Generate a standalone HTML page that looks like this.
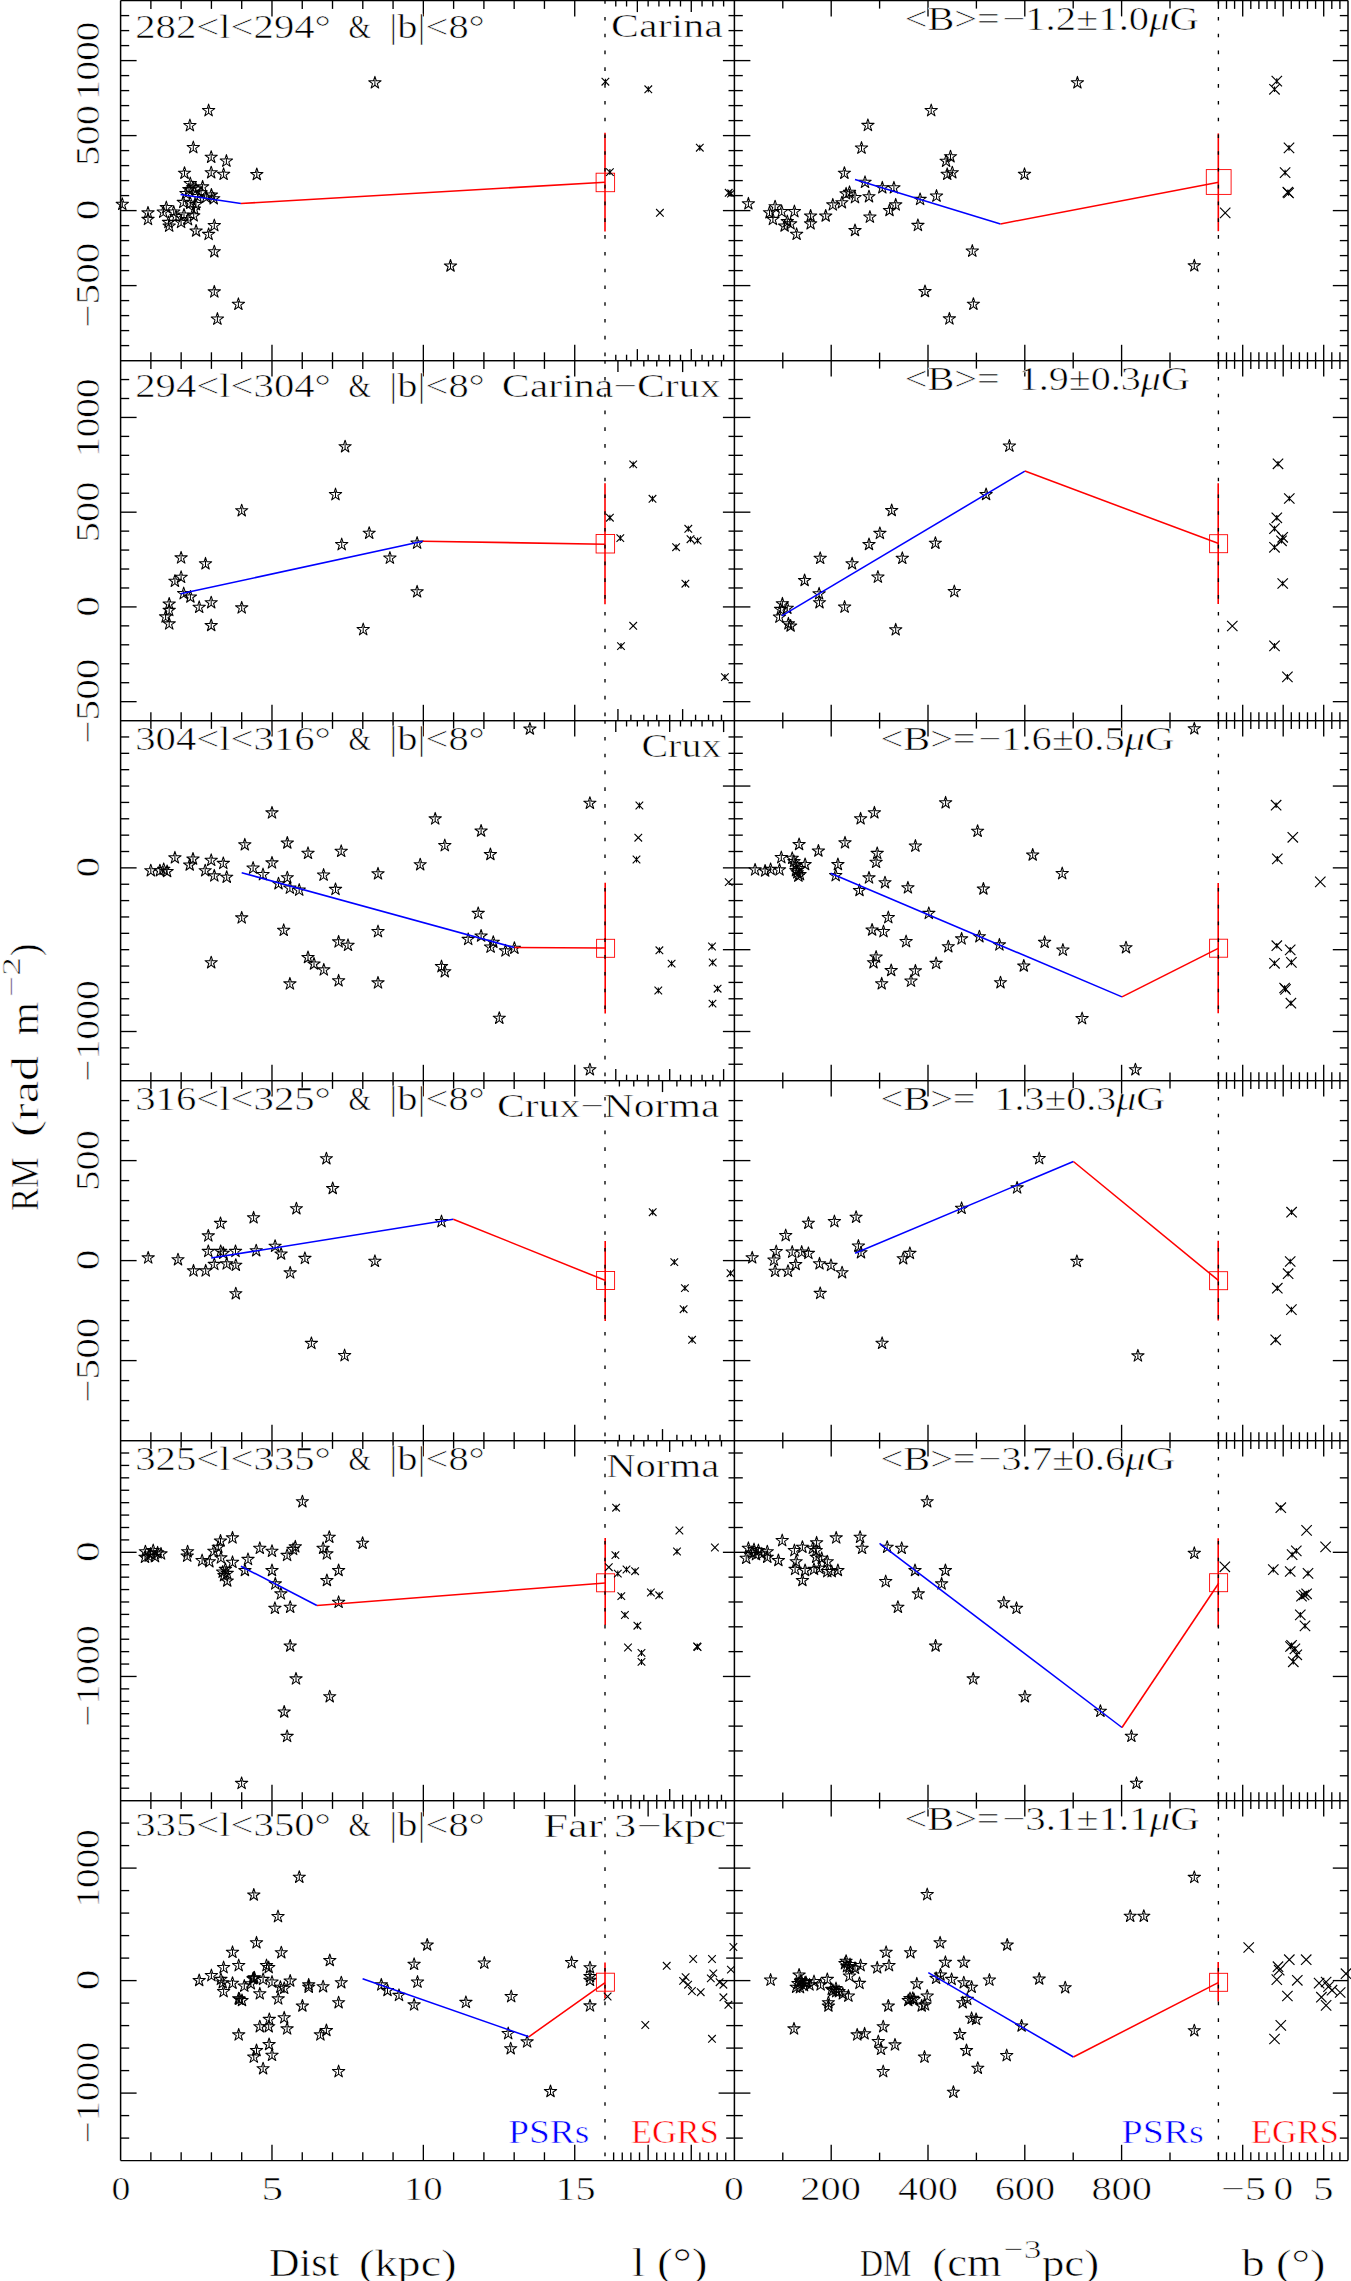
<!DOCTYPE html>
<html><head><meta charset="utf-8"><title>RM plot</title>
<style>html,body{margin:0;padding:0;background:#fff;} svg{display:block;}</style>
</head><body>
<svg width="1351" height="2281" viewBox="0 0 1351 2281" font-family="'Liberation Serif', 'DejaVu Serif', serif">
<rect width="1351" height="2281" fill="#fff"/>
<line x1="120.60" y1="0.60" x2="1348.00" y2="0.60" stroke="#000" stroke-width="1.35" />
<line x1="120.60" y1="360.60" x2="1348.00" y2="360.60" stroke="#000" stroke-width="1.35" />
<line x1="120.60" y1="345.60" x2="129.20" y2="345.60" stroke="#000" stroke-width="1.35" />
<line x1="120.60" y1="330.60" x2="129.20" y2="330.60" stroke="#000" stroke-width="1.35" />
<line x1="120.60" y1="315.60" x2="129.20" y2="315.60" stroke="#000" stroke-width="1.35" />
<line x1="120.60" y1="300.60" x2="129.20" y2="300.60" stroke="#000" stroke-width="1.35" />
<line x1="120.60" y1="285.60" x2="136.60" y2="285.60" stroke="#000" stroke-width="1.35" />
<line x1="120.60" y1="270.60" x2="129.20" y2="270.60" stroke="#000" stroke-width="1.35" />
<line x1="120.60" y1="255.60" x2="129.20" y2="255.60" stroke="#000" stroke-width="1.35" />
<line x1="120.60" y1="240.60" x2="129.20" y2="240.60" stroke="#000" stroke-width="1.35" />
<line x1="120.60" y1="225.60" x2="129.20" y2="225.60" stroke="#000" stroke-width="1.35" />
<line x1="120.60" y1="210.60" x2="136.60" y2="210.60" stroke="#000" stroke-width="1.35" />
<line x1="120.60" y1="195.60" x2="129.20" y2="195.60" stroke="#000" stroke-width="1.35" />
<line x1="120.60" y1="180.60" x2="129.20" y2="180.60" stroke="#000" stroke-width="1.35" />
<line x1="120.60" y1="165.60" x2="129.20" y2="165.60" stroke="#000" stroke-width="1.35" />
<line x1="120.60" y1="150.60" x2="129.20" y2="150.60" stroke="#000" stroke-width="1.35" />
<line x1="120.60" y1="135.60" x2="136.60" y2="135.60" stroke="#000" stroke-width="1.35" />
<line x1="120.60" y1="120.60" x2="129.20" y2="120.60" stroke="#000" stroke-width="1.35" />
<line x1="120.60" y1="105.60" x2="129.20" y2="105.60" stroke="#000" stroke-width="1.35" />
<line x1="120.60" y1="90.60" x2="129.20" y2="90.60" stroke="#000" stroke-width="1.35" />
<line x1="120.60" y1="75.60" x2="129.20" y2="75.60" stroke="#000" stroke-width="1.35" />
<line x1="120.60" y1="60.60" x2="136.60" y2="60.60" stroke="#000" stroke-width="1.35" />
<line x1="120.60" y1="45.60" x2="129.20" y2="45.60" stroke="#000" stroke-width="1.35" />
<line x1="120.60" y1="30.60" x2="129.20" y2="30.60" stroke="#000" stroke-width="1.35" />
<line x1="120.60" y1="15.60" x2="129.20" y2="15.60" stroke="#000" stroke-width="1.35" />
<line x1="734.40" y1="345.60" x2="728.50" y2="345.60" stroke="#000" stroke-width="1.35" />
<line x1="734.40" y1="345.60" x2="742.80" y2="345.60" stroke="#000" stroke-width="1.35" />
<line x1="1348.00" y1="345.60" x2="1339.80" y2="345.60" stroke="#000" stroke-width="1.35" />
<line x1="734.40" y1="330.60" x2="728.50" y2="330.60" stroke="#000" stroke-width="1.35" />
<line x1="734.40" y1="330.60" x2="742.80" y2="330.60" stroke="#000" stroke-width="1.35" />
<line x1="1348.00" y1="330.60" x2="1339.80" y2="330.60" stroke="#000" stroke-width="1.35" />
<line x1="734.40" y1="315.60" x2="728.50" y2="315.60" stroke="#000" stroke-width="1.35" />
<line x1="734.40" y1="315.60" x2="742.80" y2="315.60" stroke="#000" stroke-width="1.35" />
<line x1="1348.00" y1="315.60" x2="1339.80" y2="315.60" stroke="#000" stroke-width="1.35" />
<line x1="734.40" y1="300.60" x2="728.50" y2="300.60" stroke="#000" stroke-width="1.35" />
<line x1="734.40" y1="300.60" x2="742.80" y2="300.60" stroke="#000" stroke-width="1.35" />
<line x1="1348.00" y1="300.60" x2="1339.80" y2="300.60" stroke="#000" stroke-width="1.35" />
<line x1="734.40" y1="285.60" x2="722.90" y2="285.60" stroke="#000" stroke-width="1.35" />
<line x1="734.40" y1="285.60" x2="750.40" y2="285.60" stroke="#000" stroke-width="1.35" />
<line x1="1348.00" y1="285.60" x2="1332.80" y2="285.60" stroke="#000" stroke-width="1.35" />
<line x1="734.40" y1="270.60" x2="728.50" y2="270.60" stroke="#000" stroke-width="1.35" />
<line x1="734.40" y1="270.60" x2="742.80" y2="270.60" stroke="#000" stroke-width="1.35" />
<line x1="1348.00" y1="270.60" x2="1339.80" y2="270.60" stroke="#000" stroke-width="1.35" />
<line x1="734.40" y1="255.60" x2="728.50" y2="255.60" stroke="#000" stroke-width="1.35" />
<line x1="734.40" y1="255.60" x2="742.80" y2="255.60" stroke="#000" stroke-width="1.35" />
<line x1="1348.00" y1="255.60" x2="1339.80" y2="255.60" stroke="#000" stroke-width="1.35" />
<line x1="734.40" y1="240.60" x2="728.50" y2="240.60" stroke="#000" stroke-width="1.35" />
<line x1="734.40" y1="240.60" x2="742.80" y2="240.60" stroke="#000" stroke-width="1.35" />
<line x1="1348.00" y1="240.60" x2="1339.80" y2="240.60" stroke="#000" stroke-width="1.35" />
<line x1="734.40" y1="225.60" x2="728.50" y2="225.60" stroke="#000" stroke-width="1.35" />
<line x1="734.40" y1="225.60" x2="742.80" y2="225.60" stroke="#000" stroke-width="1.35" />
<line x1="1348.00" y1="225.60" x2="1339.80" y2="225.60" stroke="#000" stroke-width="1.35" />
<line x1="734.40" y1="210.60" x2="722.90" y2="210.60" stroke="#000" stroke-width="1.35" />
<line x1="734.40" y1="210.60" x2="750.40" y2="210.60" stroke="#000" stroke-width="1.35" />
<line x1="1348.00" y1="210.60" x2="1332.80" y2="210.60" stroke="#000" stroke-width="1.35" />
<line x1="734.40" y1="195.60" x2="728.50" y2="195.60" stroke="#000" stroke-width="1.35" />
<line x1="734.40" y1="195.60" x2="742.80" y2="195.60" stroke="#000" stroke-width="1.35" />
<line x1="1348.00" y1="195.60" x2="1339.80" y2="195.60" stroke="#000" stroke-width="1.35" />
<line x1="734.40" y1="180.60" x2="728.50" y2="180.60" stroke="#000" stroke-width="1.35" />
<line x1="734.40" y1="180.60" x2="742.80" y2="180.60" stroke="#000" stroke-width="1.35" />
<line x1="1348.00" y1="180.60" x2="1339.80" y2="180.60" stroke="#000" stroke-width="1.35" />
<line x1="734.40" y1="165.60" x2="728.50" y2="165.60" stroke="#000" stroke-width="1.35" />
<line x1="734.40" y1="165.60" x2="742.80" y2="165.60" stroke="#000" stroke-width="1.35" />
<line x1="1348.00" y1="165.60" x2="1339.80" y2="165.60" stroke="#000" stroke-width="1.35" />
<line x1="734.40" y1="150.60" x2="728.50" y2="150.60" stroke="#000" stroke-width="1.35" />
<line x1="734.40" y1="150.60" x2="742.80" y2="150.60" stroke="#000" stroke-width="1.35" />
<line x1="1348.00" y1="150.60" x2="1339.80" y2="150.60" stroke="#000" stroke-width="1.35" />
<line x1="734.40" y1="135.60" x2="722.90" y2="135.60" stroke="#000" stroke-width="1.35" />
<line x1="734.40" y1="135.60" x2="750.40" y2="135.60" stroke="#000" stroke-width="1.35" />
<line x1="1348.00" y1="135.60" x2="1332.80" y2="135.60" stroke="#000" stroke-width="1.35" />
<line x1="734.40" y1="120.60" x2="728.50" y2="120.60" stroke="#000" stroke-width="1.35" />
<line x1="734.40" y1="120.60" x2="742.80" y2="120.60" stroke="#000" stroke-width="1.35" />
<line x1="1348.00" y1="120.60" x2="1339.80" y2="120.60" stroke="#000" stroke-width="1.35" />
<line x1="734.40" y1="105.60" x2="728.50" y2="105.60" stroke="#000" stroke-width="1.35" />
<line x1="734.40" y1="105.60" x2="742.80" y2="105.60" stroke="#000" stroke-width="1.35" />
<line x1="1348.00" y1="105.60" x2="1339.80" y2="105.60" stroke="#000" stroke-width="1.35" />
<line x1="734.40" y1="90.60" x2="728.50" y2="90.60" stroke="#000" stroke-width="1.35" />
<line x1="734.40" y1="90.60" x2="742.80" y2="90.60" stroke="#000" stroke-width="1.35" />
<line x1="1348.00" y1="90.60" x2="1339.80" y2="90.60" stroke="#000" stroke-width="1.35" />
<line x1="734.40" y1="75.60" x2="728.50" y2="75.60" stroke="#000" stroke-width="1.35" />
<line x1="734.40" y1="75.60" x2="742.80" y2="75.60" stroke="#000" stroke-width="1.35" />
<line x1="1348.00" y1="75.60" x2="1339.80" y2="75.60" stroke="#000" stroke-width="1.35" />
<line x1="734.40" y1="60.60" x2="722.90" y2="60.60" stroke="#000" stroke-width="1.35" />
<line x1="734.40" y1="60.60" x2="750.40" y2="60.60" stroke="#000" stroke-width="1.35" />
<line x1="1348.00" y1="60.60" x2="1332.80" y2="60.60" stroke="#000" stroke-width="1.35" />
<line x1="734.40" y1="45.60" x2="728.50" y2="45.60" stroke="#000" stroke-width="1.35" />
<line x1="734.40" y1="45.60" x2="742.80" y2="45.60" stroke="#000" stroke-width="1.35" />
<line x1="1348.00" y1="45.60" x2="1339.80" y2="45.60" stroke="#000" stroke-width="1.35" />
<line x1="734.40" y1="30.60" x2="728.50" y2="30.60" stroke="#000" stroke-width="1.35" />
<line x1="734.40" y1="30.60" x2="742.80" y2="30.60" stroke="#000" stroke-width="1.35" />
<line x1="1348.00" y1="30.60" x2="1339.80" y2="30.60" stroke="#000" stroke-width="1.35" />
<line x1="734.40" y1="15.60" x2="728.50" y2="15.60" stroke="#000" stroke-width="1.35" />
<line x1="734.40" y1="15.60" x2="742.80" y2="15.60" stroke="#000" stroke-width="1.35" />
<line x1="1348.00" y1="15.60" x2="1339.80" y2="15.60" stroke="#000" stroke-width="1.35" />
<line x1="150.88" y1="0.60" x2="150.88" y2="8.90" stroke="#000" stroke-width="1.35" />
<line x1="150.88" y1="360.60" x2="150.88" y2="352.30" stroke="#000" stroke-width="1.35" />
<line x1="181.15" y1="0.60" x2="181.15" y2="8.90" stroke="#000" stroke-width="1.35" />
<line x1="181.15" y1="360.60" x2="181.15" y2="352.30" stroke="#000" stroke-width="1.35" />
<line x1="211.42" y1="0.60" x2="211.42" y2="8.90" stroke="#000" stroke-width="1.35" />
<line x1="211.42" y1="360.60" x2="211.42" y2="352.30" stroke="#000" stroke-width="1.35" />
<line x1="241.70" y1="0.60" x2="241.70" y2="8.90" stroke="#000" stroke-width="1.35" />
<line x1="241.70" y1="360.60" x2="241.70" y2="352.30" stroke="#000" stroke-width="1.35" />
<line x1="271.98" y1="0.60" x2="271.98" y2="16.40" stroke="#000" stroke-width="1.35" />
<line x1="271.98" y1="360.60" x2="271.98" y2="344.80" stroke="#000" stroke-width="1.35" />
<line x1="302.25" y1="0.60" x2="302.25" y2="8.90" stroke="#000" stroke-width="1.35" />
<line x1="302.25" y1="360.60" x2="302.25" y2="352.30" stroke="#000" stroke-width="1.35" />
<line x1="332.52" y1="0.60" x2="332.52" y2="8.90" stroke="#000" stroke-width="1.35" />
<line x1="332.52" y1="360.60" x2="332.52" y2="352.30" stroke="#000" stroke-width="1.35" />
<line x1="362.80" y1="0.60" x2="362.80" y2="8.90" stroke="#000" stroke-width="1.35" />
<line x1="362.80" y1="360.60" x2="362.80" y2="352.30" stroke="#000" stroke-width="1.35" />
<line x1="393.07" y1="0.60" x2="393.07" y2="8.90" stroke="#000" stroke-width="1.35" />
<line x1="393.07" y1="360.60" x2="393.07" y2="352.30" stroke="#000" stroke-width="1.35" />
<line x1="423.35" y1="0.60" x2="423.35" y2="16.40" stroke="#000" stroke-width="1.35" />
<line x1="423.35" y1="360.60" x2="423.35" y2="344.80" stroke="#000" stroke-width="1.35" />
<line x1="453.62" y1="0.60" x2="453.62" y2="8.90" stroke="#000" stroke-width="1.35" />
<line x1="453.62" y1="360.60" x2="453.62" y2="352.30" stroke="#000" stroke-width="1.35" />
<line x1="483.90" y1="0.60" x2="483.90" y2="8.90" stroke="#000" stroke-width="1.35" />
<line x1="483.90" y1="360.60" x2="483.90" y2="352.30" stroke="#000" stroke-width="1.35" />
<line x1="514.17" y1="0.60" x2="514.17" y2="8.90" stroke="#000" stroke-width="1.35" />
<line x1="514.17" y1="360.60" x2="514.17" y2="352.30" stroke="#000" stroke-width="1.35" />
<line x1="544.45" y1="0.60" x2="544.45" y2="8.90" stroke="#000" stroke-width="1.35" />
<line x1="544.45" y1="360.60" x2="544.45" y2="352.30" stroke="#000" stroke-width="1.35" />
<line x1="574.73" y1="0.60" x2="574.73" y2="16.40" stroke="#000" stroke-width="1.35" />
<line x1="574.73" y1="360.60" x2="574.73" y2="344.80" stroke="#000" stroke-width="1.35" />
<line x1="615.78" y1="0.60" x2="615.78" y2="6.50" stroke="#000" stroke-width="1.35" />
<line x1="615.78" y1="360.60" x2="615.78" y2="354.70" stroke="#000" stroke-width="1.35" />
<line x1="626.57" y1="0.60" x2="626.57" y2="6.50" stroke="#000" stroke-width="1.35" />
<line x1="626.57" y1="360.60" x2="626.57" y2="354.70" stroke="#000" stroke-width="1.35" />
<line x1="637.35" y1="0.60" x2="637.35" y2="12.10" stroke="#000" stroke-width="1.35" />
<line x1="637.35" y1="360.60" x2="637.35" y2="349.10" stroke="#000" stroke-width="1.35" />
<line x1="648.13" y1="0.60" x2="648.13" y2="6.50" stroke="#000" stroke-width="1.35" />
<line x1="648.13" y1="360.60" x2="648.13" y2="354.70" stroke="#000" stroke-width="1.35" />
<line x1="658.92" y1="0.60" x2="658.92" y2="6.50" stroke="#000" stroke-width="1.35" />
<line x1="658.92" y1="360.60" x2="658.92" y2="354.70" stroke="#000" stroke-width="1.35" />
<line x1="669.70" y1="0.60" x2="669.70" y2="6.50" stroke="#000" stroke-width="1.35" />
<line x1="669.70" y1="360.60" x2="669.70" y2="354.70" stroke="#000" stroke-width="1.35" />
<line x1="680.48" y1="0.60" x2="680.48" y2="6.50" stroke="#000" stroke-width="1.35" />
<line x1="680.48" y1="360.60" x2="680.48" y2="354.70" stroke="#000" stroke-width="1.35" />
<line x1="691.27" y1="0.60" x2="691.27" y2="12.10" stroke="#000" stroke-width="1.35" />
<line x1="691.27" y1="360.60" x2="691.27" y2="349.10" stroke="#000" stroke-width="1.35" />
<line x1="702.05" y1="0.60" x2="702.05" y2="6.50" stroke="#000" stroke-width="1.35" />
<line x1="702.05" y1="360.60" x2="702.05" y2="354.70" stroke="#000" stroke-width="1.35" />
<line x1="712.83" y1="0.60" x2="712.83" y2="6.50" stroke="#000" stroke-width="1.35" />
<line x1="712.83" y1="360.60" x2="712.83" y2="354.70" stroke="#000" stroke-width="1.35" />
<line x1="723.62" y1="0.60" x2="723.62" y2="6.50" stroke="#000" stroke-width="1.35" />
<line x1="723.62" y1="360.60" x2="723.62" y2="354.70" stroke="#000" stroke-width="1.35" />
<line x1="782.80" y1="0.60" x2="782.80" y2="8.60" stroke="#000" stroke-width="1.35" />
<line x1="782.80" y1="360.60" x2="782.80" y2="352.60" stroke="#000" stroke-width="1.35" />
<line x1="831.20" y1="0.60" x2="831.20" y2="16.40" stroke="#000" stroke-width="1.35" />
<line x1="831.20" y1="360.60" x2="831.20" y2="344.80" stroke="#000" stroke-width="1.35" />
<line x1="879.60" y1="0.60" x2="879.60" y2="8.60" stroke="#000" stroke-width="1.35" />
<line x1="879.60" y1="360.60" x2="879.60" y2="352.60" stroke="#000" stroke-width="1.35" />
<line x1="928.00" y1="0.60" x2="928.00" y2="16.40" stroke="#000" stroke-width="1.35" />
<line x1="928.00" y1="360.60" x2="928.00" y2="344.80" stroke="#000" stroke-width="1.35" />
<line x1="976.40" y1="0.60" x2="976.40" y2="8.60" stroke="#000" stroke-width="1.35" />
<line x1="976.40" y1="360.60" x2="976.40" y2="352.60" stroke="#000" stroke-width="1.35" />
<line x1="1024.80" y1="0.60" x2="1024.80" y2="16.40" stroke="#000" stroke-width="1.35" />
<line x1="1024.80" y1="360.60" x2="1024.80" y2="344.80" stroke="#000" stroke-width="1.35" />
<line x1="1073.20" y1="0.60" x2="1073.20" y2="8.60" stroke="#000" stroke-width="1.35" />
<line x1="1073.20" y1="360.60" x2="1073.20" y2="352.60" stroke="#000" stroke-width="1.35" />
<line x1="1121.60" y1="0.60" x2="1121.60" y2="16.40" stroke="#000" stroke-width="1.35" />
<line x1="1121.60" y1="360.60" x2="1121.60" y2="344.80" stroke="#000" stroke-width="1.35" />
<line x1="1170.00" y1="0.60" x2="1170.00" y2="8.60" stroke="#000" stroke-width="1.35" />
<line x1="1170.00" y1="360.60" x2="1170.00" y2="352.60" stroke="#000" stroke-width="1.35" />
<line x1="1218.40" y1="0.60" x2="1218.40" y2="8.90" stroke="#000" stroke-width="1.35" />
<line x1="1218.40" y1="360.60" x2="1218.40" y2="352.30" stroke="#000" stroke-width="1.35" />
<line x1="1226.50" y1="0.60" x2="1226.50" y2="8.90" stroke="#000" stroke-width="1.35" />
<line x1="1226.50" y1="360.60" x2="1226.50" y2="352.30" stroke="#000" stroke-width="1.35" />
<line x1="1234.60" y1="0.60" x2="1234.60" y2="8.90" stroke="#000" stroke-width="1.35" />
<line x1="1234.60" y1="360.60" x2="1234.60" y2="352.30" stroke="#000" stroke-width="1.35" />
<line x1="1242.70" y1="0.60" x2="1242.70" y2="16.40" stroke="#000" stroke-width="1.35" />
<line x1="1242.70" y1="360.60" x2="1242.70" y2="344.80" stroke="#000" stroke-width="1.35" />
<line x1="1250.80" y1="0.60" x2="1250.80" y2="8.90" stroke="#000" stroke-width="1.35" />
<line x1="1250.80" y1="360.60" x2="1250.80" y2="352.30" stroke="#000" stroke-width="1.35" />
<line x1="1258.90" y1="0.60" x2="1258.90" y2="8.90" stroke="#000" stroke-width="1.35" />
<line x1="1258.90" y1="360.60" x2="1258.90" y2="352.30" stroke="#000" stroke-width="1.35" />
<line x1="1267.00" y1="0.60" x2="1267.00" y2="8.90" stroke="#000" stroke-width="1.35" />
<line x1="1267.00" y1="360.60" x2="1267.00" y2="352.30" stroke="#000" stroke-width="1.35" />
<line x1="1275.10" y1="0.60" x2="1275.10" y2="8.90" stroke="#000" stroke-width="1.35" />
<line x1="1275.10" y1="360.60" x2="1275.10" y2="352.30" stroke="#000" stroke-width="1.35" />
<line x1="1283.20" y1="0.60" x2="1283.20" y2="16.40" stroke="#000" stroke-width="1.35" />
<line x1="1283.20" y1="360.60" x2="1283.20" y2="344.80" stroke="#000" stroke-width="1.35" />
<line x1="1291.30" y1="0.60" x2="1291.30" y2="8.90" stroke="#000" stroke-width="1.35" />
<line x1="1291.30" y1="360.60" x2="1291.30" y2="352.30" stroke="#000" stroke-width="1.35" />
<line x1="1299.40" y1="0.60" x2="1299.40" y2="8.90" stroke="#000" stroke-width="1.35" />
<line x1="1299.40" y1="360.60" x2="1299.40" y2="352.30" stroke="#000" stroke-width="1.35" />
<line x1="1307.50" y1="0.60" x2="1307.50" y2="8.90" stroke="#000" stroke-width="1.35" />
<line x1="1307.50" y1="360.60" x2="1307.50" y2="352.30" stroke="#000" stroke-width="1.35" />
<line x1="1315.60" y1="0.60" x2="1315.60" y2="8.90" stroke="#000" stroke-width="1.35" />
<line x1="1315.60" y1="360.60" x2="1315.60" y2="352.30" stroke="#000" stroke-width="1.35" />
<line x1="1323.70" y1="0.60" x2="1323.70" y2="16.40" stroke="#000" stroke-width="1.35" />
<line x1="1323.70" y1="360.60" x2="1323.70" y2="344.80" stroke="#000" stroke-width="1.35" />
<line x1="1331.80" y1="0.60" x2="1331.80" y2="8.90" stroke="#000" stroke-width="1.35" />
<line x1="1331.80" y1="360.60" x2="1331.80" y2="352.30" stroke="#000" stroke-width="1.35" />
<line x1="1339.90" y1="0.60" x2="1339.90" y2="8.90" stroke="#000" stroke-width="1.35" />
<line x1="1339.90" y1="360.60" x2="1339.90" y2="352.30" stroke="#000" stroke-width="1.35" />
<line x1="120.60" y1="360.60" x2="1348.00" y2="360.60" stroke="#000" stroke-width="1.35" />
<line x1="120.60" y1="720.60" x2="1348.00" y2="720.60" stroke="#000" stroke-width="1.35" />
<line x1="120.60" y1="701.65" x2="136.60" y2="701.65" stroke="#000" stroke-width="1.35" />
<line x1="120.60" y1="682.71" x2="129.20" y2="682.71" stroke="#000" stroke-width="1.35" />
<line x1="120.60" y1="663.76" x2="129.20" y2="663.76" stroke="#000" stroke-width="1.35" />
<line x1="120.60" y1="644.81" x2="129.20" y2="644.81" stroke="#000" stroke-width="1.35" />
<line x1="120.60" y1="625.86" x2="129.20" y2="625.86" stroke="#000" stroke-width="1.35" />
<line x1="120.60" y1="606.92" x2="136.60" y2="606.92" stroke="#000" stroke-width="1.35" />
<line x1="120.60" y1="587.97" x2="129.20" y2="587.97" stroke="#000" stroke-width="1.35" />
<line x1="120.60" y1="569.02" x2="129.20" y2="569.02" stroke="#000" stroke-width="1.35" />
<line x1="120.60" y1="550.07" x2="129.20" y2="550.07" stroke="#000" stroke-width="1.35" />
<line x1="120.60" y1="531.13" x2="129.20" y2="531.13" stroke="#000" stroke-width="1.35" />
<line x1="120.60" y1="512.18" x2="136.60" y2="512.18" stroke="#000" stroke-width="1.35" />
<line x1="120.60" y1="493.23" x2="129.20" y2="493.23" stroke="#000" stroke-width="1.35" />
<line x1="120.60" y1="474.28" x2="129.20" y2="474.28" stroke="#000" stroke-width="1.35" />
<line x1="120.60" y1="455.34" x2="129.20" y2="455.34" stroke="#000" stroke-width="1.35" />
<line x1="120.60" y1="436.39" x2="129.20" y2="436.39" stroke="#000" stroke-width="1.35" />
<line x1="120.60" y1="417.44" x2="136.60" y2="417.44" stroke="#000" stroke-width="1.35" />
<line x1="120.60" y1="398.49" x2="129.20" y2="398.49" stroke="#000" stroke-width="1.35" />
<line x1="120.60" y1="379.55" x2="129.20" y2="379.55" stroke="#000" stroke-width="1.35" />
<line x1="734.40" y1="701.65" x2="722.90" y2="701.65" stroke="#000" stroke-width="1.35" />
<line x1="734.40" y1="701.65" x2="750.40" y2="701.65" stroke="#000" stroke-width="1.35" />
<line x1="1348.00" y1="701.65" x2="1332.80" y2="701.65" stroke="#000" stroke-width="1.35" />
<line x1="734.40" y1="682.71" x2="728.50" y2="682.71" stroke="#000" stroke-width="1.35" />
<line x1="734.40" y1="682.71" x2="742.80" y2="682.71" stroke="#000" stroke-width="1.35" />
<line x1="1348.00" y1="682.71" x2="1339.80" y2="682.71" stroke="#000" stroke-width="1.35" />
<line x1="734.40" y1="663.76" x2="728.50" y2="663.76" stroke="#000" stroke-width="1.35" />
<line x1="734.40" y1="663.76" x2="742.80" y2="663.76" stroke="#000" stroke-width="1.35" />
<line x1="1348.00" y1="663.76" x2="1339.80" y2="663.76" stroke="#000" stroke-width="1.35" />
<line x1="734.40" y1="644.81" x2="728.50" y2="644.81" stroke="#000" stroke-width="1.35" />
<line x1="734.40" y1="644.81" x2="742.80" y2="644.81" stroke="#000" stroke-width="1.35" />
<line x1="1348.00" y1="644.81" x2="1339.80" y2="644.81" stroke="#000" stroke-width="1.35" />
<line x1="734.40" y1="625.86" x2="728.50" y2="625.86" stroke="#000" stroke-width="1.35" />
<line x1="734.40" y1="625.86" x2="742.80" y2="625.86" stroke="#000" stroke-width="1.35" />
<line x1="1348.00" y1="625.86" x2="1339.80" y2="625.86" stroke="#000" stroke-width="1.35" />
<line x1="734.40" y1="606.92" x2="722.90" y2="606.92" stroke="#000" stroke-width="1.35" />
<line x1="734.40" y1="606.92" x2="750.40" y2="606.92" stroke="#000" stroke-width="1.35" />
<line x1="1348.00" y1="606.92" x2="1332.80" y2="606.92" stroke="#000" stroke-width="1.35" />
<line x1="734.40" y1="587.97" x2="728.50" y2="587.97" stroke="#000" stroke-width="1.35" />
<line x1="734.40" y1="587.97" x2="742.80" y2="587.97" stroke="#000" stroke-width="1.35" />
<line x1="1348.00" y1="587.97" x2="1339.80" y2="587.97" stroke="#000" stroke-width="1.35" />
<line x1="734.40" y1="569.02" x2="728.50" y2="569.02" stroke="#000" stroke-width="1.35" />
<line x1="734.40" y1="569.02" x2="742.80" y2="569.02" stroke="#000" stroke-width="1.35" />
<line x1="1348.00" y1="569.02" x2="1339.80" y2="569.02" stroke="#000" stroke-width="1.35" />
<line x1="734.40" y1="550.07" x2="728.50" y2="550.07" stroke="#000" stroke-width="1.35" />
<line x1="734.40" y1="550.07" x2="742.80" y2="550.07" stroke="#000" stroke-width="1.35" />
<line x1="1348.00" y1="550.07" x2="1339.80" y2="550.07" stroke="#000" stroke-width="1.35" />
<line x1="734.40" y1="531.13" x2="728.50" y2="531.13" stroke="#000" stroke-width="1.35" />
<line x1="734.40" y1="531.13" x2="742.80" y2="531.13" stroke="#000" stroke-width="1.35" />
<line x1="1348.00" y1="531.13" x2="1339.80" y2="531.13" stroke="#000" stroke-width="1.35" />
<line x1="734.40" y1="512.18" x2="722.90" y2="512.18" stroke="#000" stroke-width="1.35" />
<line x1="734.40" y1="512.18" x2="750.40" y2="512.18" stroke="#000" stroke-width="1.35" />
<line x1="1348.00" y1="512.18" x2="1332.80" y2="512.18" stroke="#000" stroke-width="1.35" />
<line x1="734.40" y1="493.23" x2="728.50" y2="493.23" stroke="#000" stroke-width="1.35" />
<line x1="734.40" y1="493.23" x2="742.80" y2="493.23" stroke="#000" stroke-width="1.35" />
<line x1="1348.00" y1="493.23" x2="1339.80" y2="493.23" stroke="#000" stroke-width="1.35" />
<line x1="734.40" y1="474.28" x2="728.50" y2="474.28" stroke="#000" stroke-width="1.35" />
<line x1="734.40" y1="474.28" x2="742.80" y2="474.28" stroke="#000" stroke-width="1.35" />
<line x1="1348.00" y1="474.28" x2="1339.80" y2="474.28" stroke="#000" stroke-width="1.35" />
<line x1="734.40" y1="455.34" x2="728.50" y2="455.34" stroke="#000" stroke-width="1.35" />
<line x1="734.40" y1="455.34" x2="742.80" y2="455.34" stroke="#000" stroke-width="1.35" />
<line x1="1348.00" y1="455.34" x2="1339.80" y2="455.34" stroke="#000" stroke-width="1.35" />
<line x1="734.40" y1="436.39" x2="728.50" y2="436.39" stroke="#000" stroke-width="1.35" />
<line x1="734.40" y1="436.39" x2="742.80" y2="436.39" stroke="#000" stroke-width="1.35" />
<line x1="1348.00" y1="436.39" x2="1339.80" y2="436.39" stroke="#000" stroke-width="1.35" />
<line x1="734.40" y1="417.44" x2="722.90" y2="417.44" stroke="#000" stroke-width="1.35" />
<line x1="734.40" y1="417.44" x2="750.40" y2="417.44" stroke="#000" stroke-width="1.35" />
<line x1="1348.00" y1="417.44" x2="1332.80" y2="417.44" stroke="#000" stroke-width="1.35" />
<line x1="734.40" y1="398.49" x2="728.50" y2="398.49" stroke="#000" stroke-width="1.35" />
<line x1="734.40" y1="398.49" x2="742.80" y2="398.49" stroke="#000" stroke-width="1.35" />
<line x1="1348.00" y1="398.49" x2="1339.80" y2="398.49" stroke="#000" stroke-width="1.35" />
<line x1="734.40" y1="379.55" x2="728.50" y2="379.55" stroke="#000" stroke-width="1.35" />
<line x1="734.40" y1="379.55" x2="742.80" y2="379.55" stroke="#000" stroke-width="1.35" />
<line x1="1348.00" y1="379.55" x2="1339.80" y2="379.55" stroke="#000" stroke-width="1.35" />
<line x1="150.88" y1="360.60" x2="150.88" y2="368.90" stroke="#000" stroke-width="1.35" />
<line x1="150.88" y1="720.60" x2="150.88" y2="712.30" stroke="#000" stroke-width="1.35" />
<line x1="181.15" y1="360.60" x2="181.15" y2="368.90" stroke="#000" stroke-width="1.35" />
<line x1="181.15" y1="720.60" x2="181.15" y2="712.30" stroke="#000" stroke-width="1.35" />
<line x1="211.42" y1="360.60" x2="211.42" y2="368.90" stroke="#000" stroke-width="1.35" />
<line x1="211.42" y1="720.60" x2="211.42" y2="712.30" stroke="#000" stroke-width="1.35" />
<line x1="241.70" y1="360.60" x2="241.70" y2="368.90" stroke="#000" stroke-width="1.35" />
<line x1="241.70" y1="720.60" x2="241.70" y2="712.30" stroke="#000" stroke-width="1.35" />
<line x1="271.98" y1="360.60" x2="271.98" y2="376.40" stroke="#000" stroke-width="1.35" />
<line x1="271.98" y1="720.60" x2="271.98" y2="704.80" stroke="#000" stroke-width="1.35" />
<line x1="302.25" y1="360.60" x2="302.25" y2="368.90" stroke="#000" stroke-width="1.35" />
<line x1="302.25" y1="720.60" x2="302.25" y2="712.30" stroke="#000" stroke-width="1.35" />
<line x1="332.52" y1="360.60" x2="332.52" y2="368.90" stroke="#000" stroke-width="1.35" />
<line x1="332.52" y1="720.60" x2="332.52" y2="712.30" stroke="#000" stroke-width="1.35" />
<line x1="362.80" y1="360.60" x2="362.80" y2="368.90" stroke="#000" stroke-width="1.35" />
<line x1="362.80" y1="720.60" x2="362.80" y2="712.30" stroke="#000" stroke-width="1.35" />
<line x1="393.07" y1="360.60" x2="393.07" y2="368.90" stroke="#000" stroke-width="1.35" />
<line x1="393.07" y1="720.60" x2="393.07" y2="712.30" stroke="#000" stroke-width="1.35" />
<line x1="423.35" y1="360.60" x2="423.35" y2="376.40" stroke="#000" stroke-width="1.35" />
<line x1="423.35" y1="720.60" x2="423.35" y2="704.80" stroke="#000" stroke-width="1.35" />
<line x1="453.62" y1="360.60" x2="453.62" y2="368.90" stroke="#000" stroke-width="1.35" />
<line x1="453.62" y1="720.60" x2="453.62" y2="712.30" stroke="#000" stroke-width="1.35" />
<line x1="483.90" y1="360.60" x2="483.90" y2="368.90" stroke="#000" stroke-width="1.35" />
<line x1="483.90" y1="720.60" x2="483.90" y2="712.30" stroke="#000" stroke-width="1.35" />
<line x1="514.17" y1="360.60" x2="514.17" y2="368.90" stroke="#000" stroke-width="1.35" />
<line x1="514.17" y1="720.60" x2="514.17" y2="712.30" stroke="#000" stroke-width="1.35" />
<line x1="544.45" y1="360.60" x2="544.45" y2="368.90" stroke="#000" stroke-width="1.35" />
<line x1="544.45" y1="720.60" x2="544.45" y2="712.30" stroke="#000" stroke-width="1.35" />
<line x1="574.73" y1="360.60" x2="574.73" y2="376.40" stroke="#000" stroke-width="1.35" />
<line x1="574.73" y1="720.60" x2="574.73" y2="704.80" stroke="#000" stroke-width="1.35" />
<line x1="617.94" y1="360.60" x2="617.94" y2="372.10" stroke="#000" stroke-width="1.35" />
<line x1="617.94" y1="720.60" x2="617.94" y2="709.10" stroke="#000" stroke-width="1.35" />
<line x1="630.88" y1="360.60" x2="630.88" y2="366.50" stroke="#000" stroke-width="1.35" />
<line x1="630.88" y1="720.60" x2="630.88" y2="714.70" stroke="#000" stroke-width="1.35" />
<line x1="643.82" y1="360.60" x2="643.82" y2="366.50" stroke="#000" stroke-width="1.35" />
<line x1="643.82" y1="720.60" x2="643.82" y2="714.70" stroke="#000" stroke-width="1.35" />
<line x1="656.76" y1="360.60" x2="656.76" y2="366.50" stroke="#000" stroke-width="1.35" />
<line x1="656.76" y1="720.60" x2="656.76" y2="714.70" stroke="#000" stroke-width="1.35" />
<line x1="669.70" y1="360.60" x2="669.70" y2="366.50" stroke="#000" stroke-width="1.35" />
<line x1="669.70" y1="720.60" x2="669.70" y2="714.70" stroke="#000" stroke-width="1.35" />
<line x1="682.64" y1="360.60" x2="682.64" y2="372.10" stroke="#000" stroke-width="1.35" />
<line x1="682.64" y1="720.60" x2="682.64" y2="709.10" stroke="#000" stroke-width="1.35" />
<line x1="695.58" y1="360.60" x2="695.58" y2="366.50" stroke="#000" stroke-width="1.35" />
<line x1="695.58" y1="720.60" x2="695.58" y2="714.70" stroke="#000" stroke-width="1.35" />
<line x1="708.52" y1="360.60" x2="708.52" y2="366.50" stroke="#000" stroke-width="1.35" />
<line x1="708.52" y1="720.60" x2="708.52" y2="714.70" stroke="#000" stroke-width="1.35" />
<line x1="721.46" y1="360.60" x2="721.46" y2="366.50" stroke="#000" stroke-width="1.35" />
<line x1="721.46" y1="720.60" x2="721.46" y2="714.70" stroke="#000" stroke-width="1.35" />
<line x1="782.80" y1="360.60" x2="782.80" y2="368.60" stroke="#000" stroke-width="1.35" />
<line x1="782.80" y1="720.60" x2="782.80" y2="712.60" stroke="#000" stroke-width="1.35" />
<line x1="831.20" y1="360.60" x2="831.20" y2="376.40" stroke="#000" stroke-width="1.35" />
<line x1="831.20" y1="720.60" x2="831.20" y2="704.80" stroke="#000" stroke-width="1.35" />
<line x1="879.60" y1="360.60" x2="879.60" y2="368.60" stroke="#000" stroke-width="1.35" />
<line x1="879.60" y1="720.60" x2="879.60" y2="712.60" stroke="#000" stroke-width="1.35" />
<line x1="928.00" y1="360.60" x2="928.00" y2="376.40" stroke="#000" stroke-width="1.35" />
<line x1="928.00" y1="720.60" x2="928.00" y2="704.80" stroke="#000" stroke-width="1.35" />
<line x1="976.40" y1="360.60" x2="976.40" y2="368.60" stroke="#000" stroke-width="1.35" />
<line x1="976.40" y1="720.60" x2="976.40" y2="712.60" stroke="#000" stroke-width="1.35" />
<line x1="1024.80" y1="360.60" x2="1024.80" y2="376.40" stroke="#000" stroke-width="1.35" />
<line x1="1024.80" y1="720.60" x2="1024.80" y2="704.80" stroke="#000" stroke-width="1.35" />
<line x1="1073.20" y1="360.60" x2="1073.20" y2="368.60" stroke="#000" stroke-width="1.35" />
<line x1="1073.20" y1="720.60" x2="1073.20" y2="712.60" stroke="#000" stroke-width="1.35" />
<line x1="1121.60" y1="360.60" x2="1121.60" y2="376.40" stroke="#000" stroke-width="1.35" />
<line x1="1121.60" y1="720.60" x2="1121.60" y2="704.80" stroke="#000" stroke-width="1.35" />
<line x1="1170.00" y1="360.60" x2="1170.00" y2="368.60" stroke="#000" stroke-width="1.35" />
<line x1="1170.00" y1="720.60" x2="1170.00" y2="712.60" stroke="#000" stroke-width="1.35" />
<line x1="1218.40" y1="360.60" x2="1218.40" y2="368.90" stroke="#000" stroke-width="1.35" />
<line x1="1218.40" y1="720.60" x2="1218.40" y2="712.30" stroke="#000" stroke-width="1.35" />
<line x1="1226.50" y1="360.60" x2="1226.50" y2="368.90" stroke="#000" stroke-width="1.35" />
<line x1="1226.50" y1="720.60" x2="1226.50" y2="712.30" stroke="#000" stroke-width="1.35" />
<line x1="1234.60" y1="360.60" x2="1234.60" y2="368.90" stroke="#000" stroke-width="1.35" />
<line x1="1234.60" y1="720.60" x2="1234.60" y2="712.30" stroke="#000" stroke-width="1.35" />
<line x1="1242.70" y1="360.60" x2="1242.70" y2="376.40" stroke="#000" stroke-width="1.35" />
<line x1="1242.70" y1="720.60" x2="1242.70" y2="704.80" stroke="#000" stroke-width="1.35" />
<line x1="1250.80" y1="360.60" x2="1250.80" y2="368.90" stroke="#000" stroke-width="1.35" />
<line x1="1250.80" y1="720.60" x2="1250.80" y2="712.30" stroke="#000" stroke-width="1.35" />
<line x1="1258.90" y1="360.60" x2="1258.90" y2="368.90" stroke="#000" stroke-width="1.35" />
<line x1="1258.90" y1="720.60" x2="1258.90" y2="712.30" stroke="#000" stroke-width="1.35" />
<line x1="1267.00" y1="360.60" x2="1267.00" y2="368.90" stroke="#000" stroke-width="1.35" />
<line x1="1267.00" y1="720.60" x2="1267.00" y2="712.30" stroke="#000" stroke-width="1.35" />
<line x1="1275.10" y1="360.60" x2="1275.10" y2="368.90" stroke="#000" stroke-width="1.35" />
<line x1="1275.10" y1="720.60" x2="1275.10" y2="712.30" stroke="#000" stroke-width="1.35" />
<line x1="1283.20" y1="360.60" x2="1283.20" y2="376.40" stroke="#000" stroke-width="1.35" />
<line x1="1283.20" y1="720.60" x2="1283.20" y2="704.80" stroke="#000" stroke-width="1.35" />
<line x1="1291.30" y1="360.60" x2="1291.30" y2="368.90" stroke="#000" stroke-width="1.35" />
<line x1="1291.30" y1="720.60" x2="1291.30" y2="712.30" stroke="#000" stroke-width="1.35" />
<line x1="1299.40" y1="360.60" x2="1299.40" y2="368.90" stroke="#000" stroke-width="1.35" />
<line x1="1299.40" y1="720.60" x2="1299.40" y2="712.30" stroke="#000" stroke-width="1.35" />
<line x1="1307.50" y1="360.60" x2="1307.50" y2="368.90" stroke="#000" stroke-width="1.35" />
<line x1="1307.50" y1="720.60" x2="1307.50" y2="712.30" stroke="#000" stroke-width="1.35" />
<line x1="1315.60" y1="360.60" x2="1315.60" y2="368.90" stroke="#000" stroke-width="1.35" />
<line x1="1315.60" y1="720.60" x2="1315.60" y2="712.30" stroke="#000" stroke-width="1.35" />
<line x1="1323.70" y1="360.60" x2="1323.70" y2="376.40" stroke="#000" stroke-width="1.35" />
<line x1="1323.70" y1="720.60" x2="1323.70" y2="704.80" stroke="#000" stroke-width="1.35" />
<line x1="1331.80" y1="360.60" x2="1331.80" y2="368.90" stroke="#000" stroke-width="1.35" />
<line x1="1331.80" y1="720.60" x2="1331.80" y2="712.30" stroke="#000" stroke-width="1.35" />
<line x1="1339.90" y1="360.60" x2="1339.90" y2="368.90" stroke="#000" stroke-width="1.35" />
<line x1="1339.90" y1="720.60" x2="1339.90" y2="712.30" stroke="#000" stroke-width="1.35" />
<line x1="120.60" y1="720.60" x2="1348.00" y2="720.60" stroke="#000" stroke-width="1.35" />
<line x1="120.60" y1="1080.60" x2="1348.00" y2="1080.60" stroke="#000" stroke-width="1.35" />
<line x1="120.60" y1="1064.24" x2="129.20" y2="1064.24" stroke="#000" stroke-width="1.35" />
<line x1="120.60" y1="1047.87" x2="129.20" y2="1047.87" stroke="#000" stroke-width="1.35" />
<line x1="120.60" y1="1031.51" x2="136.60" y2="1031.51" stroke="#000" stroke-width="1.35" />
<line x1="120.60" y1="1015.15" x2="129.20" y2="1015.15" stroke="#000" stroke-width="1.35" />
<line x1="120.60" y1="998.78" x2="129.20" y2="998.78" stroke="#000" stroke-width="1.35" />
<line x1="120.60" y1="982.42" x2="129.20" y2="982.42" stroke="#000" stroke-width="1.35" />
<line x1="120.60" y1="966.05" x2="129.20" y2="966.05" stroke="#000" stroke-width="1.35" />
<line x1="120.60" y1="949.69" x2="129.20" y2="949.69" stroke="#000" stroke-width="1.35" />
<line x1="120.60" y1="933.33" x2="129.20" y2="933.33" stroke="#000" stroke-width="1.35" />
<line x1="120.60" y1="916.96" x2="129.20" y2="916.96" stroke="#000" stroke-width="1.35" />
<line x1="120.60" y1="900.60" x2="129.20" y2="900.60" stroke="#000" stroke-width="1.35" />
<line x1="120.60" y1="884.24" x2="129.20" y2="884.24" stroke="#000" stroke-width="1.35" />
<line x1="120.60" y1="867.87" x2="136.60" y2="867.87" stroke="#000" stroke-width="1.35" />
<line x1="120.60" y1="851.51" x2="129.20" y2="851.51" stroke="#000" stroke-width="1.35" />
<line x1="120.60" y1="835.15" x2="129.20" y2="835.15" stroke="#000" stroke-width="1.35" />
<line x1="120.60" y1="818.78" x2="129.20" y2="818.78" stroke="#000" stroke-width="1.35" />
<line x1="120.60" y1="802.42" x2="129.20" y2="802.42" stroke="#000" stroke-width="1.35" />
<line x1="120.60" y1="786.05" x2="129.20" y2="786.05" stroke="#000" stroke-width="1.35" />
<line x1="120.60" y1="769.69" x2="129.20" y2="769.69" stroke="#000" stroke-width="1.35" />
<line x1="120.60" y1="753.33" x2="129.20" y2="753.33" stroke="#000" stroke-width="1.35" />
<line x1="120.60" y1="736.96" x2="129.20" y2="736.96" stroke="#000" stroke-width="1.35" />
<line x1="734.40" y1="1064.24" x2="728.50" y2="1064.24" stroke="#000" stroke-width="1.35" />
<line x1="734.40" y1="1064.24" x2="742.80" y2="1064.24" stroke="#000" stroke-width="1.35" />
<line x1="1348.00" y1="1064.24" x2="1339.80" y2="1064.24" stroke="#000" stroke-width="1.35" />
<line x1="734.40" y1="1047.87" x2="728.50" y2="1047.87" stroke="#000" stroke-width="1.35" />
<line x1="734.40" y1="1047.87" x2="742.80" y2="1047.87" stroke="#000" stroke-width="1.35" />
<line x1="1348.00" y1="1047.87" x2="1339.80" y2="1047.87" stroke="#000" stroke-width="1.35" />
<line x1="734.40" y1="1031.51" x2="722.90" y2="1031.51" stroke="#000" stroke-width="1.35" />
<line x1="734.40" y1="1031.51" x2="750.40" y2="1031.51" stroke="#000" stroke-width="1.35" />
<line x1="1348.00" y1="1031.51" x2="1332.80" y2="1031.51" stroke="#000" stroke-width="1.35" />
<line x1="734.40" y1="1015.15" x2="728.50" y2="1015.15" stroke="#000" stroke-width="1.35" />
<line x1="734.40" y1="1015.15" x2="742.80" y2="1015.15" stroke="#000" stroke-width="1.35" />
<line x1="1348.00" y1="1015.15" x2="1339.80" y2="1015.15" stroke="#000" stroke-width="1.35" />
<line x1="734.40" y1="998.78" x2="728.50" y2="998.78" stroke="#000" stroke-width="1.35" />
<line x1="734.40" y1="998.78" x2="742.80" y2="998.78" stroke="#000" stroke-width="1.35" />
<line x1="1348.00" y1="998.78" x2="1339.80" y2="998.78" stroke="#000" stroke-width="1.35" />
<line x1="734.40" y1="982.42" x2="728.50" y2="982.42" stroke="#000" stroke-width="1.35" />
<line x1="734.40" y1="982.42" x2="742.80" y2="982.42" stroke="#000" stroke-width="1.35" />
<line x1="1348.00" y1="982.42" x2="1339.80" y2="982.42" stroke="#000" stroke-width="1.35" />
<line x1="734.40" y1="966.05" x2="728.50" y2="966.05" stroke="#000" stroke-width="1.35" />
<line x1="734.40" y1="966.05" x2="742.80" y2="966.05" stroke="#000" stroke-width="1.35" />
<line x1="1348.00" y1="966.05" x2="1339.80" y2="966.05" stroke="#000" stroke-width="1.35" />
<line x1="734.40" y1="949.69" x2="722.90" y2="949.69" stroke="#000" stroke-width="1.35" />
<line x1="734.40" y1="949.69" x2="750.40" y2="949.69" stroke="#000" stroke-width="1.35" />
<line x1="1348.00" y1="949.69" x2="1332.80" y2="949.69" stroke="#000" stroke-width="1.35" />
<line x1="734.40" y1="933.33" x2="728.50" y2="933.33" stroke="#000" stroke-width="1.35" />
<line x1="734.40" y1="933.33" x2="742.80" y2="933.33" stroke="#000" stroke-width="1.35" />
<line x1="1348.00" y1="933.33" x2="1339.80" y2="933.33" stroke="#000" stroke-width="1.35" />
<line x1="734.40" y1="916.96" x2="728.50" y2="916.96" stroke="#000" stroke-width="1.35" />
<line x1="734.40" y1="916.96" x2="742.80" y2="916.96" stroke="#000" stroke-width="1.35" />
<line x1="1348.00" y1="916.96" x2="1339.80" y2="916.96" stroke="#000" stroke-width="1.35" />
<line x1="734.40" y1="900.60" x2="728.50" y2="900.60" stroke="#000" stroke-width="1.35" />
<line x1="734.40" y1="900.60" x2="742.80" y2="900.60" stroke="#000" stroke-width="1.35" />
<line x1="1348.00" y1="900.60" x2="1339.80" y2="900.60" stroke="#000" stroke-width="1.35" />
<line x1="734.40" y1="884.24" x2="728.50" y2="884.24" stroke="#000" stroke-width="1.35" />
<line x1="734.40" y1="884.24" x2="742.80" y2="884.24" stroke="#000" stroke-width="1.35" />
<line x1="1348.00" y1="884.24" x2="1339.80" y2="884.24" stroke="#000" stroke-width="1.35" />
<line x1="734.40" y1="867.87" x2="722.90" y2="867.87" stroke="#000" stroke-width="1.35" />
<line x1="734.40" y1="867.87" x2="750.40" y2="867.87" stroke="#000" stroke-width="1.35" />
<line x1="1348.00" y1="867.87" x2="1332.80" y2="867.87" stroke="#000" stroke-width="1.35" />
<line x1="734.40" y1="851.51" x2="728.50" y2="851.51" stroke="#000" stroke-width="1.35" />
<line x1="734.40" y1="851.51" x2="742.80" y2="851.51" stroke="#000" stroke-width="1.35" />
<line x1="1348.00" y1="851.51" x2="1339.80" y2="851.51" stroke="#000" stroke-width="1.35" />
<line x1="734.40" y1="835.15" x2="728.50" y2="835.15" stroke="#000" stroke-width="1.35" />
<line x1="734.40" y1="835.15" x2="742.80" y2="835.15" stroke="#000" stroke-width="1.35" />
<line x1="1348.00" y1="835.15" x2="1339.80" y2="835.15" stroke="#000" stroke-width="1.35" />
<line x1="734.40" y1="818.78" x2="728.50" y2="818.78" stroke="#000" stroke-width="1.35" />
<line x1="734.40" y1="818.78" x2="742.80" y2="818.78" stroke="#000" stroke-width="1.35" />
<line x1="1348.00" y1="818.78" x2="1339.80" y2="818.78" stroke="#000" stroke-width="1.35" />
<line x1="734.40" y1="802.42" x2="728.50" y2="802.42" stroke="#000" stroke-width="1.35" />
<line x1="734.40" y1="802.42" x2="742.80" y2="802.42" stroke="#000" stroke-width="1.35" />
<line x1="1348.00" y1="802.42" x2="1339.80" y2="802.42" stroke="#000" stroke-width="1.35" />
<line x1="734.40" y1="786.05" x2="722.90" y2="786.05" stroke="#000" stroke-width="1.35" />
<line x1="734.40" y1="786.05" x2="750.40" y2="786.05" stroke="#000" stroke-width="1.35" />
<line x1="1348.00" y1="786.05" x2="1332.80" y2="786.05" stroke="#000" stroke-width="1.35" />
<line x1="734.40" y1="769.69" x2="728.50" y2="769.69" stroke="#000" stroke-width="1.35" />
<line x1="734.40" y1="769.69" x2="742.80" y2="769.69" stroke="#000" stroke-width="1.35" />
<line x1="1348.00" y1="769.69" x2="1339.80" y2="769.69" stroke="#000" stroke-width="1.35" />
<line x1="734.40" y1="753.33" x2="728.50" y2="753.33" stroke="#000" stroke-width="1.35" />
<line x1="734.40" y1="753.33" x2="742.80" y2="753.33" stroke="#000" stroke-width="1.35" />
<line x1="1348.00" y1="753.33" x2="1339.80" y2="753.33" stroke="#000" stroke-width="1.35" />
<line x1="734.40" y1="736.96" x2="728.50" y2="736.96" stroke="#000" stroke-width="1.35" />
<line x1="734.40" y1="736.96" x2="742.80" y2="736.96" stroke="#000" stroke-width="1.35" />
<line x1="1348.00" y1="736.96" x2="1339.80" y2="736.96" stroke="#000" stroke-width="1.35" />
<line x1="150.88" y1="720.60" x2="150.88" y2="728.90" stroke="#000" stroke-width="1.35" />
<line x1="150.88" y1="1080.60" x2="150.88" y2="1072.30" stroke="#000" stroke-width="1.35" />
<line x1="181.15" y1="720.60" x2="181.15" y2="728.90" stroke="#000" stroke-width="1.35" />
<line x1="181.15" y1="1080.60" x2="181.15" y2="1072.30" stroke="#000" stroke-width="1.35" />
<line x1="211.42" y1="720.60" x2="211.42" y2="728.90" stroke="#000" stroke-width="1.35" />
<line x1="211.42" y1="1080.60" x2="211.42" y2="1072.30" stroke="#000" stroke-width="1.35" />
<line x1="241.70" y1="720.60" x2="241.70" y2="728.90" stroke="#000" stroke-width="1.35" />
<line x1="241.70" y1="1080.60" x2="241.70" y2="1072.30" stroke="#000" stroke-width="1.35" />
<line x1="271.98" y1="720.60" x2="271.98" y2="736.40" stroke="#000" stroke-width="1.35" />
<line x1="271.98" y1="1080.60" x2="271.98" y2="1064.80" stroke="#000" stroke-width="1.35" />
<line x1="302.25" y1="720.60" x2="302.25" y2="728.90" stroke="#000" stroke-width="1.35" />
<line x1="302.25" y1="1080.60" x2="302.25" y2="1072.30" stroke="#000" stroke-width="1.35" />
<line x1="332.52" y1="720.60" x2="332.52" y2="728.90" stroke="#000" stroke-width="1.35" />
<line x1="332.52" y1="1080.60" x2="332.52" y2="1072.30" stroke="#000" stroke-width="1.35" />
<line x1="362.80" y1="720.60" x2="362.80" y2="728.90" stroke="#000" stroke-width="1.35" />
<line x1="362.80" y1="1080.60" x2="362.80" y2="1072.30" stroke="#000" stroke-width="1.35" />
<line x1="393.07" y1="720.60" x2="393.07" y2="728.90" stroke="#000" stroke-width="1.35" />
<line x1="393.07" y1="1080.60" x2="393.07" y2="1072.30" stroke="#000" stroke-width="1.35" />
<line x1="423.35" y1="720.60" x2="423.35" y2="736.40" stroke="#000" stroke-width="1.35" />
<line x1="423.35" y1="1080.60" x2="423.35" y2="1064.80" stroke="#000" stroke-width="1.35" />
<line x1="453.62" y1="720.60" x2="453.62" y2="728.90" stroke="#000" stroke-width="1.35" />
<line x1="453.62" y1="1080.60" x2="453.62" y2="1072.30" stroke="#000" stroke-width="1.35" />
<line x1="483.90" y1="720.60" x2="483.90" y2="728.90" stroke="#000" stroke-width="1.35" />
<line x1="483.90" y1="1080.60" x2="483.90" y2="1072.30" stroke="#000" stroke-width="1.35" />
<line x1="514.17" y1="720.60" x2="514.17" y2="728.90" stroke="#000" stroke-width="1.35" />
<line x1="514.17" y1="1080.60" x2="514.17" y2="1072.30" stroke="#000" stroke-width="1.35" />
<line x1="544.45" y1="720.60" x2="544.45" y2="728.90" stroke="#000" stroke-width="1.35" />
<line x1="544.45" y1="1080.60" x2="544.45" y2="1072.30" stroke="#000" stroke-width="1.35" />
<line x1="574.73" y1="720.60" x2="574.73" y2="736.40" stroke="#000" stroke-width="1.35" />
<line x1="574.73" y1="1080.60" x2="574.73" y2="1064.80" stroke="#000" stroke-width="1.35" />
<line x1="615.78" y1="720.60" x2="615.78" y2="732.10" stroke="#000" stroke-width="1.35" />
<line x1="615.78" y1="1080.60" x2="615.78" y2="1069.10" stroke="#000" stroke-width="1.35" />
<line x1="626.57" y1="720.60" x2="626.57" y2="726.50" stroke="#000" stroke-width="1.35" />
<line x1="626.57" y1="1080.60" x2="626.57" y2="1074.70" stroke="#000" stroke-width="1.35" />
<line x1="637.35" y1="720.60" x2="637.35" y2="726.50" stroke="#000" stroke-width="1.35" />
<line x1="637.35" y1="1080.60" x2="637.35" y2="1074.70" stroke="#000" stroke-width="1.35" />
<line x1="648.13" y1="720.60" x2="648.13" y2="726.50" stroke="#000" stroke-width="1.35" />
<line x1="648.13" y1="1080.60" x2="648.13" y2="1074.70" stroke="#000" stroke-width="1.35" />
<line x1="658.92" y1="720.60" x2="658.92" y2="726.50" stroke="#000" stroke-width="1.35" />
<line x1="658.92" y1="1080.60" x2="658.92" y2="1074.70" stroke="#000" stroke-width="1.35" />
<line x1="669.70" y1="720.60" x2="669.70" y2="732.10" stroke="#000" stroke-width="1.35" />
<line x1="669.70" y1="1080.60" x2="669.70" y2="1069.10" stroke="#000" stroke-width="1.35" />
<line x1="680.48" y1="720.60" x2="680.48" y2="726.50" stroke="#000" stroke-width="1.35" />
<line x1="680.48" y1="1080.60" x2="680.48" y2="1074.70" stroke="#000" stroke-width="1.35" />
<line x1="691.27" y1="720.60" x2="691.27" y2="726.50" stroke="#000" stroke-width="1.35" />
<line x1="691.27" y1="1080.60" x2="691.27" y2="1074.70" stroke="#000" stroke-width="1.35" />
<line x1="702.05" y1="720.60" x2="702.05" y2="726.50" stroke="#000" stroke-width="1.35" />
<line x1="702.05" y1="1080.60" x2="702.05" y2="1074.70" stroke="#000" stroke-width="1.35" />
<line x1="712.83" y1="720.60" x2="712.83" y2="726.50" stroke="#000" stroke-width="1.35" />
<line x1="712.83" y1="1080.60" x2="712.83" y2="1074.70" stroke="#000" stroke-width="1.35" />
<line x1="723.62" y1="720.60" x2="723.62" y2="732.10" stroke="#000" stroke-width="1.35" />
<line x1="723.62" y1="1080.60" x2="723.62" y2="1069.10" stroke="#000" stroke-width="1.35" />
<line x1="782.80" y1="720.60" x2="782.80" y2="728.60" stroke="#000" stroke-width="1.35" />
<line x1="782.80" y1="1080.60" x2="782.80" y2="1072.60" stroke="#000" stroke-width="1.35" />
<line x1="831.20" y1="720.60" x2="831.20" y2="736.40" stroke="#000" stroke-width="1.35" />
<line x1="831.20" y1="1080.60" x2="831.20" y2="1064.80" stroke="#000" stroke-width="1.35" />
<line x1="879.60" y1="720.60" x2="879.60" y2="728.60" stroke="#000" stroke-width="1.35" />
<line x1="879.60" y1="1080.60" x2="879.60" y2="1072.60" stroke="#000" stroke-width="1.35" />
<line x1="928.00" y1="720.60" x2="928.00" y2="736.40" stroke="#000" stroke-width="1.35" />
<line x1="928.00" y1="1080.60" x2="928.00" y2="1064.80" stroke="#000" stroke-width="1.35" />
<line x1="976.40" y1="720.60" x2="976.40" y2="728.60" stroke="#000" stroke-width="1.35" />
<line x1="976.40" y1="1080.60" x2="976.40" y2="1072.60" stroke="#000" stroke-width="1.35" />
<line x1="1024.80" y1="720.60" x2="1024.80" y2="736.40" stroke="#000" stroke-width="1.35" />
<line x1="1024.80" y1="1080.60" x2="1024.80" y2="1064.80" stroke="#000" stroke-width="1.35" />
<line x1="1073.20" y1="720.60" x2="1073.20" y2="728.60" stroke="#000" stroke-width="1.35" />
<line x1="1073.20" y1="1080.60" x2="1073.20" y2="1072.60" stroke="#000" stroke-width="1.35" />
<line x1="1121.60" y1="720.60" x2="1121.60" y2="736.40" stroke="#000" stroke-width="1.35" />
<line x1="1121.60" y1="1080.60" x2="1121.60" y2="1064.80" stroke="#000" stroke-width="1.35" />
<line x1="1170.00" y1="720.60" x2="1170.00" y2="728.60" stroke="#000" stroke-width="1.35" />
<line x1="1170.00" y1="1080.60" x2="1170.00" y2="1072.60" stroke="#000" stroke-width="1.35" />
<line x1="1218.40" y1="720.60" x2="1218.40" y2="728.90" stroke="#000" stroke-width="1.35" />
<line x1="1218.40" y1="1080.60" x2="1218.40" y2="1072.30" stroke="#000" stroke-width="1.35" />
<line x1="1226.50" y1="720.60" x2="1226.50" y2="728.90" stroke="#000" stroke-width="1.35" />
<line x1="1226.50" y1="1080.60" x2="1226.50" y2="1072.30" stroke="#000" stroke-width="1.35" />
<line x1="1234.60" y1="720.60" x2="1234.60" y2="728.90" stroke="#000" stroke-width="1.35" />
<line x1="1234.60" y1="1080.60" x2="1234.60" y2="1072.30" stroke="#000" stroke-width="1.35" />
<line x1="1242.70" y1="720.60" x2="1242.70" y2="736.40" stroke="#000" stroke-width="1.35" />
<line x1="1242.70" y1="1080.60" x2="1242.70" y2="1064.80" stroke="#000" stroke-width="1.35" />
<line x1="1250.80" y1="720.60" x2="1250.80" y2="728.90" stroke="#000" stroke-width="1.35" />
<line x1="1250.80" y1="1080.60" x2="1250.80" y2="1072.30" stroke="#000" stroke-width="1.35" />
<line x1="1258.90" y1="720.60" x2="1258.90" y2="728.90" stroke="#000" stroke-width="1.35" />
<line x1="1258.90" y1="1080.60" x2="1258.90" y2="1072.30" stroke="#000" stroke-width="1.35" />
<line x1="1267.00" y1="720.60" x2="1267.00" y2="728.90" stroke="#000" stroke-width="1.35" />
<line x1="1267.00" y1="1080.60" x2="1267.00" y2="1072.30" stroke="#000" stroke-width="1.35" />
<line x1="1275.10" y1="720.60" x2="1275.10" y2="728.90" stroke="#000" stroke-width="1.35" />
<line x1="1275.10" y1="1080.60" x2="1275.10" y2="1072.30" stroke="#000" stroke-width="1.35" />
<line x1="1283.20" y1="720.60" x2="1283.20" y2="736.40" stroke="#000" stroke-width="1.35" />
<line x1="1283.20" y1="1080.60" x2="1283.20" y2="1064.80" stroke="#000" stroke-width="1.35" />
<line x1="1291.30" y1="720.60" x2="1291.30" y2="728.90" stroke="#000" stroke-width="1.35" />
<line x1="1291.30" y1="1080.60" x2="1291.30" y2="1072.30" stroke="#000" stroke-width="1.35" />
<line x1="1299.40" y1="720.60" x2="1299.40" y2="728.90" stroke="#000" stroke-width="1.35" />
<line x1="1299.40" y1="1080.60" x2="1299.40" y2="1072.30" stroke="#000" stroke-width="1.35" />
<line x1="1307.50" y1="720.60" x2="1307.50" y2="728.90" stroke="#000" stroke-width="1.35" />
<line x1="1307.50" y1="1080.60" x2="1307.50" y2="1072.30" stroke="#000" stroke-width="1.35" />
<line x1="1315.60" y1="720.60" x2="1315.60" y2="728.90" stroke="#000" stroke-width="1.35" />
<line x1="1315.60" y1="1080.60" x2="1315.60" y2="1072.30" stroke="#000" stroke-width="1.35" />
<line x1="1323.70" y1="720.60" x2="1323.70" y2="736.40" stroke="#000" stroke-width="1.35" />
<line x1="1323.70" y1="1080.60" x2="1323.70" y2="1064.80" stroke="#000" stroke-width="1.35" />
<line x1="1331.80" y1="720.60" x2="1331.80" y2="728.90" stroke="#000" stroke-width="1.35" />
<line x1="1331.80" y1="1080.60" x2="1331.80" y2="1072.30" stroke="#000" stroke-width="1.35" />
<line x1="1339.90" y1="720.60" x2="1339.90" y2="728.90" stroke="#000" stroke-width="1.35" />
<line x1="1339.90" y1="1080.60" x2="1339.90" y2="1072.30" stroke="#000" stroke-width="1.35" />
<line x1="120.60" y1="1080.60" x2="1348.00" y2="1080.60" stroke="#000" stroke-width="1.35" />
<line x1="120.60" y1="1440.60" x2="1348.00" y2="1440.60" stroke="#000" stroke-width="1.35" />
<line x1="120.60" y1="1420.60" x2="129.20" y2="1420.60" stroke="#000" stroke-width="1.35" />
<line x1="120.60" y1="1400.60" x2="129.20" y2="1400.60" stroke="#000" stroke-width="1.35" />
<line x1="120.60" y1="1380.60" x2="129.20" y2="1380.60" stroke="#000" stroke-width="1.35" />
<line x1="120.60" y1="1360.60" x2="136.60" y2="1360.60" stroke="#000" stroke-width="1.35" />
<line x1="120.60" y1="1340.60" x2="129.20" y2="1340.60" stroke="#000" stroke-width="1.35" />
<line x1="120.60" y1="1320.60" x2="129.20" y2="1320.60" stroke="#000" stroke-width="1.35" />
<line x1="120.60" y1="1300.60" x2="129.20" y2="1300.60" stroke="#000" stroke-width="1.35" />
<line x1="120.60" y1="1280.60" x2="129.20" y2="1280.60" stroke="#000" stroke-width="1.35" />
<line x1="120.60" y1="1260.60" x2="136.60" y2="1260.60" stroke="#000" stroke-width="1.35" />
<line x1="120.60" y1="1240.60" x2="129.20" y2="1240.60" stroke="#000" stroke-width="1.35" />
<line x1="120.60" y1="1220.60" x2="129.20" y2="1220.60" stroke="#000" stroke-width="1.35" />
<line x1="120.60" y1="1200.60" x2="129.20" y2="1200.60" stroke="#000" stroke-width="1.35" />
<line x1="120.60" y1="1180.60" x2="129.20" y2="1180.60" stroke="#000" stroke-width="1.35" />
<line x1="120.60" y1="1160.60" x2="136.60" y2="1160.60" stroke="#000" stroke-width="1.35" />
<line x1="120.60" y1="1140.60" x2="129.20" y2="1140.60" stroke="#000" stroke-width="1.35" />
<line x1="120.60" y1="1120.60" x2="129.20" y2="1120.60" stroke="#000" stroke-width="1.35" />
<line x1="120.60" y1="1100.60" x2="129.20" y2="1100.60" stroke="#000" stroke-width="1.35" />
<line x1="734.40" y1="1420.60" x2="728.50" y2="1420.60" stroke="#000" stroke-width="1.35" />
<line x1="734.40" y1="1420.60" x2="742.80" y2="1420.60" stroke="#000" stroke-width="1.35" />
<line x1="1348.00" y1="1420.60" x2="1339.80" y2="1420.60" stroke="#000" stroke-width="1.35" />
<line x1="734.40" y1="1400.60" x2="728.50" y2="1400.60" stroke="#000" stroke-width="1.35" />
<line x1="734.40" y1="1400.60" x2="742.80" y2="1400.60" stroke="#000" stroke-width="1.35" />
<line x1="1348.00" y1="1400.60" x2="1339.80" y2="1400.60" stroke="#000" stroke-width="1.35" />
<line x1="734.40" y1="1380.60" x2="728.50" y2="1380.60" stroke="#000" stroke-width="1.35" />
<line x1="734.40" y1="1380.60" x2="742.80" y2="1380.60" stroke="#000" stroke-width="1.35" />
<line x1="1348.00" y1="1380.60" x2="1339.80" y2="1380.60" stroke="#000" stroke-width="1.35" />
<line x1="734.40" y1="1360.60" x2="722.90" y2="1360.60" stroke="#000" stroke-width="1.35" />
<line x1="734.40" y1="1360.60" x2="750.40" y2="1360.60" stroke="#000" stroke-width="1.35" />
<line x1="1348.00" y1="1360.60" x2="1332.80" y2="1360.60" stroke="#000" stroke-width="1.35" />
<line x1="734.40" y1="1340.60" x2="728.50" y2="1340.60" stroke="#000" stroke-width="1.35" />
<line x1="734.40" y1="1340.60" x2="742.80" y2="1340.60" stroke="#000" stroke-width="1.35" />
<line x1="1348.00" y1="1340.60" x2="1339.80" y2="1340.60" stroke="#000" stroke-width="1.35" />
<line x1="734.40" y1="1320.60" x2="728.50" y2="1320.60" stroke="#000" stroke-width="1.35" />
<line x1="734.40" y1="1320.60" x2="742.80" y2="1320.60" stroke="#000" stroke-width="1.35" />
<line x1="1348.00" y1="1320.60" x2="1339.80" y2="1320.60" stroke="#000" stroke-width="1.35" />
<line x1="734.40" y1="1300.60" x2="728.50" y2="1300.60" stroke="#000" stroke-width="1.35" />
<line x1="734.40" y1="1300.60" x2="742.80" y2="1300.60" stroke="#000" stroke-width="1.35" />
<line x1="1348.00" y1="1300.60" x2="1339.80" y2="1300.60" stroke="#000" stroke-width="1.35" />
<line x1="734.40" y1="1280.60" x2="728.50" y2="1280.60" stroke="#000" stroke-width="1.35" />
<line x1="734.40" y1="1280.60" x2="742.80" y2="1280.60" stroke="#000" stroke-width="1.35" />
<line x1="1348.00" y1="1280.60" x2="1339.80" y2="1280.60" stroke="#000" stroke-width="1.35" />
<line x1="734.40" y1="1260.60" x2="722.90" y2="1260.60" stroke="#000" stroke-width="1.35" />
<line x1="734.40" y1="1260.60" x2="750.40" y2="1260.60" stroke="#000" stroke-width="1.35" />
<line x1="1348.00" y1="1260.60" x2="1332.80" y2="1260.60" stroke="#000" stroke-width="1.35" />
<line x1="734.40" y1="1240.60" x2="728.50" y2="1240.60" stroke="#000" stroke-width="1.35" />
<line x1="734.40" y1="1240.60" x2="742.80" y2="1240.60" stroke="#000" stroke-width="1.35" />
<line x1="1348.00" y1="1240.60" x2="1339.80" y2="1240.60" stroke="#000" stroke-width="1.35" />
<line x1="734.40" y1="1220.60" x2="728.50" y2="1220.60" stroke="#000" stroke-width="1.35" />
<line x1="734.40" y1="1220.60" x2="742.80" y2="1220.60" stroke="#000" stroke-width="1.35" />
<line x1="1348.00" y1="1220.60" x2="1339.80" y2="1220.60" stroke="#000" stroke-width="1.35" />
<line x1="734.40" y1="1200.60" x2="728.50" y2="1200.60" stroke="#000" stroke-width="1.35" />
<line x1="734.40" y1="1200.60" x2="742.80" y2="1200.60" stroke="#000" stroke-width="1.35" />
<line x1="1348.00" y1="1200.60" x2="1339.80" y2="1200.60" stroke="#000" stroke-width="1.35" />
<line x1="734.40" y1="1180.60" x2="728.50" y2="1180.60" stroke="#000" stroke-width="1.35" />
<line x1="734.40" y1="1180.60" x2="742.80" y2="1180.60" stroke="#000" stroke-width="1.35" />
<line x1="1348.00" y1="1180.60" x2="1339.80" y2="1180.60" stroke="#000" stroke-width="1.35" />
<line x1="734.40" y1="1160.60" x2="722.90" y2="1160.60" stroke="#000" stroke-width="1.35" />
<line x1="734.40" y1="1160.60" x2="750.40" y2="1160.60" stroke="#000" stroke-width="1.35" />
<line x1="1348.00" y1="1160.60" x2="1332.80" y2="1160.60" stroke="#000" stroke-width="1.35" />
<line x1="734.40" y1="1140.60" x2="728.50" y2="1140.60" stroke="#000" stroke-width="1.35" />
<line x1="734.40" y1="1140.60" x2="742.80" y2="1140.60" stroke="#000" stroke-width="1.35" />
<line x1="1348.00" y1="1140.60" x2="1339.80" y2="1140.60" stroke="#000" stroke-width="1.35" />
<line x1="734.40" y1="1120.60" x2="728.50" y2="1120.60" stroke="#000" stroke-width="1.35" />
<line x1="734.40" y1="1120.60" x2="742.80" y2="1120.60" stroke="#000" stroke-width="1.35" />
<line x1="1348.00" y1="1120.60" x2="1339.80" y2="1120.60" stroke="#000" stroke-width="1.35" />
<line x1="734.40" y1="1100.60" x2="728.50" y2="1100.60" stroke="#000" stroke-width="1.35" />
<line x1="734.40" y1="1100.60" x2="742.80" y2="1100.60" stroke="#000" stroke-width="1.35" />
<line x1="1348.00" y1="1100.60" x2="1339.80" y2="1100.60" stroke="#000" stroke-width="1.35" />
<line x1="150.88" y1="1080.60" x2="150.88" y2="1088.90" stroke="#000" stroke-width="1.35" />
<line x1="150.88" y1="1440.60" x2="150.88" y2="1432.30" stroke="#000" stroke-width="1.35" />
<line x1="181.15" y1="1080.60" x2="181.15" y2="1088.90" stroke="#000" stroke-width="1.35" />
<line x1="181.15" y1="1440.60" x2="181.15" y2="1432.30" stroke="#000" stroke-width="1.35" />
<line x1="211.42" y1="1080.60" x2="211.42" y2="1088.90" stroke="#000" stroke-width="1.35" />
<line x1="211.42" y1="1440.60" x2="211.42" y2="1432.30" stroke="#000" stroke-width="1.35" />
<line x1="241.70" y1="1080.60" x2="241.70" y2="1088.90" stroke="#000" stroke-width="1.35" />
<line x1="241.70" y1="1440.60" x2="241.70" y2="1432.30" stroke="#000" stroke-width="1.35" />
<line x1="271.98" y1="1080.60" x2="271.98" y2="1096.40" stroke="#000" stroke-width="1.35" />
<line x1="271.98" y1="1440.60" x2="271.98" y2="1424.80" stroke="#000" stroke-width="1.35" />
<line x1="302.25" y1="1080.60" x2="302.25" y2="1088.90" stroke="#000" stroke-width="1.35" />
<line x1="302.25" y1="1440.60" x2="302.25" y2="1432.30" stroke="#000" stroke-width="1.35" />
<line x1="332.52" y1="1080.60" x2="332.52" y2="1088.90" stroke="#000" stroke-width="1.35" />
<line x1="332.52" y1="1440.60" x2="332.52" y2="1432.30" stroke="#000" stroke-width="1.35" />
<line x1="362.80" y1="1080.60" x2="362.80" y2="1088.90" stroke="#000" stroke-width="1.35" />
<line x1="362.80" y1="1440.60" x2="362.80" y2="1432.30" stroke="#000" stroke-width="1.35" />
<line x1="393.07" y1="1080.60" x2="393.07" y2="1088.90" stroke="#000" stroke-width="1.35" />
<line x1="393.07" y1="1440.60" x2="393.07" y2="1432.30" stroke="#000" stroke-width="1.35" />
<line x1="423.35" y1="1080.60" x2="423.35" y2="1096.40" stroke="#000" stroke-width="1.35" />
<line x1="423.35" y1="1440.60" x2="423.35" y2="1424.80" stroke="#000" stroke-width="1.35" />
<line x1="453.62" y1="1080.60" x2="453.62" y2="1088.90" stroke="#000" stroke-width="1.35" />
<line x1="453.62" y1="1440.60" x2="453.62" y2="1432.30" stroke="#000" stroke-width="1.35" />
<line x1="483.90" y1="1080.60" x2="483.90" y2="1088.90" stroke="#000" stroke-width="1.35" />
<line x1="483.90" y1="1440.60" x2="483.90" y2="1432.30" stroke="#000" stroke-width="1.35" />
<line x1="514.17" y1="1080.60" x2="514.17" y2="1088.90" stroke="#000" stroke-width="1.35" />
<line x1="514.17" y1="1440.60" x2="514.17" y2="1432.30" stroke="#000" stroke-width="1.35" />
<line x1="544.45" y1="1080.60" x2="544.45" y2="1088.90" stroke="#000" stroke-width="1.35" />
<line x1="544.45" y1="1440.60" x2="544.45" y2="1432.30" stroke="#000" stroke-width="1.35" />
<line x1="574.73" y1="1080.60" x2="574.73" y2="1096.40" stroke="#000" stroke-width="1.35" />
<line x1="574.73" y1="1440.60" x2="574.73" y2="1424.80" stroke="#000" stroke-width="1.35" />
<line x1="619.38" y1="1080.60" x2="619.38" y2="1086.50" stroke="#000" stroke-width="1.35" />
<line x1="619.38" y1="1440.60" x2="619.38" y2="1434.70" stroke="#000" stroke-width="1.35" />
<line x1="633.76" y1="1080.60" x2="633.76" y2="1086.50" stroke="#000" stroke-width="1.35" />
<line x1="633.76" y1="1440.60" x2="633.76" y2="1434.70" stroke="#000" stroke-width="1.35" />
<line x1="648.13" y1="1080.60" x2="648.13" y2="1086.50" stroke="#000" stroke-width="1.35" />
<line x1="648.13" y1="1440.60" x2="648.13" y2="1434.70" stroke="#000" stroke-width="1.35" />
<line x1="662.51" y1="1080.60" x2="662.51" y2="1092.10" stroke="#000" stroke-width="1.35" />
<line x1="662.51" y1="1440.60" x2="662.51" y2="1429.10" stroke="#000" stroke-width="1.35" />
<line x1="676.89" y1="1080.60" x2="676.89" y2="1086.50" stroke="#000" stroke-width="1.35" />
<line x1="676.89" y1="1440.60" x2="676.89" y2="1434.70" stroke="#000" stroke-width="1.35" />
<line x1="691.27" y1="1080.60" x2="691.27" y2="1086.50" stroke="#000" stroke-width="1.35" />
<line x1="691.27" y1="1440.60" x2="691.27" y2="1434.70" stroke="#000" stroke-width="1.35" />
<line x1="705.64" y1="1080.60" x2="705.64" y2="1086.50" stroke="#000" stroke-width="1.35" />
<line x1="705.64" y1="1440.60" x2="705.64" y2="1434.70" stroke="#000" stroke-width="1.35" />
<line x1="720.02" y1="1080.60" x2="720.02" y2="1086.50" stroke="#000" stroke-width="1.35" />
<line x1="720.02" y1="1440.60" x2="720.02" y2="1434.70" stroke="#000" stroke-width="1.35" />
<line x1="782.80" y1="1080.60" x2="782.80" y2="1088.60" stroke="#000" stroke-width="1.35" />
<line x1="782.80" y1="1440.60" x2="782.80" y2="1432.60" stroke="#000" stroke-width="1.35" />
<line x1="831.20" y1="1080.60" x2="831.20" y2="1096.40" stroke="#000" stroke-width="1.35" />
<line x1="831.20" y1="1440.60" x2="831.20" y2="1424.80" stroke="#000" stroke-width="1.35" />
<line x1="879.60" y1="1080.60" x2="879.60" y2="1088.60" stroke="#000" stroke-width="1.35" />
<line x1="879.60" y1="1440.60" x2="879.60" y2="1432.60" stroke="#000" stroke-width="1.35" />
<line x1="928.00" y1="1080.60" x2="928.00" y2="1096.40" stroke="#000" stroke-width="1.35" />
<line x1="928.00" y1="1440.60" x2="928.00" y2="1424.80" stroke="#000" stroke-width="1.35" />
<line x1="976.40" y1="1080.60" x2="976.40" y2="1088.60" stroke="#000" stroke-width="1.35" />
<line x1="976.40" y1="1440.60" x2="976.40" y2="1432.60" stroke="#000" stroke-width="1.35" />
<line x1="1024.80" y1="1080.60" x2="1024.80" y2="1096.40" stroke="#000" stroke-width="1.35" />
<line x1="1024.80" y1="1440.60" x2="1024.80" y2="1424.80" stroke="#000" stroke-width="1.35" />
<line x1="1073.20" y1="1080.60" x2="1073.20" y2="1088.60" stroke="#000" stroke-width="1.35" />
<line x1="1073.20" y1="1440.60" x2="1073.20" y2="1432.60" stroke="#000" stroke-width="1.35" />
<line x1="1121.60" y1="1080.60" x2="1121.60" y2="1096.40" stroke="#000" stroke-width="1.35" />
<line x1="1121.60" y1="1440.60" x2="1121.60" y2="1424.80" stroke="#000" stroke-width="1.35" />
<line x1="1170.00" y1="1080.60" x2="1170.00" y2="1088.60" stroke="#000" stroke-width="1.35" />
<line x1="1170.00" y1="1440.60" x2="1170.00" y2="1432.60" stroke="#000" stroke-width="1.35" />
<line x1="1218.40" y1="1080.60" x2="1218.40" y2="1088.90" stroke="#000" stroke-width="1.35" />
<line x1="1218.40" y1="1440.60" x2="1218.40" y2="1432.30" stroke="#000" stroke-width="1.35" />
<line x1="1226.50" y1="1080.60" x2="1226.50" y2="1088.90" stroke="#000" stroke-width="1.35" />
<line x1="1226.50" y1="1440.60" x2="1226.50" y2="1432.30" stroke="#000" stroke-width="1.35" />
<line x1="1234.60" y1="1080.60" x2="1234.60" y2="1088.90" stroke="#000" stroke-width="1.35" />
<line x1="1234.60" y1="1440.60" x2="1234.60" y2="1432.30" stroke="#000" stroke-width="1.35" />
<line x1="1242.70" y1="1080.60" x2="1242.70" y2="1096.40" stroke="#000" stroke-width="1.35" />
<line x1="1242.70" y1="1440.60" x2="1242.70" y2="1424.80" stroke="#000" stroke-width="1.35" />
<line x1="1250.80" y1="1080.60" x2="1250.80" y2="1088.90" stroke="#000" stroke-width="1.35" />
<line x1="1250.80" y1="1440.60" x2="1250.80" y2="1432.30" stroke="#000" stroke-width="1.35" />
<line x1="1258.90" y1="1080.60" x2="1258.90" y2="1088.90" stroke="#000" stroke-width="1.35" />
<line x1="1258.90" y1="1440.60" x2="1258.90" y2="1432.30" stroke="#000" stroke-width="1.35" />
<line x1="1267.00" y1="1080.60" x2="1267.00" y2="1088.90" stroke="#000" stroke-width="1.35" />
<line x1="1267.00" y1="1440.60" x2="1267.00" y2="1432.30" stroke="#000" stroke-width="1.35" />
<line x1="1275.10" y1="1080.60" x2="1275.10" y2="1088.90" stroke="#000" stroke-width="1.35" />
<line x1="1275.10" y1="1440.60" x2="1275.10" y2="1432.30" stroke="#000" stroke-width="1.35" />
<line x1="1283.20" y1="1080.60" x2="1283.20" y2="1096.40" stroke="#000" stroke-width="1.35" />
<line x1="1283.20" y1="1440.60" x2="1283.20" y2="1424.80" stroke="#000" stroke-width="1.35" />
<line x1="1291.30" y1="1080.60" x2="1291.30" y2="1088.90" stroke="#000" stroke-width="1.35" />
<line x1="1291.30" y1="1440.60" x2="1291.30" y2="1432.30" stroke="#000" stroke-width="1.35" />
<line x1="1299.40" y1="1080.60" x2="1299.40" y2="1088.90" stroke="#000" stroke-width="1.35" />
<line x1="1299.40" y1="1440.60" x2="1299.40" y2="1432.30" stroke="#000" stroke-width="1.35" />
<line x1="1307.50" y1="1080.60" x2="1307.50" y2="1088.90" stroke="#000" stroke-width="1.35" />
<line x1="1307.50" y1="1440.60" x2="1307.50" y2="1432.30" stroke="#000" stroke-width="1.35" />
<line x1="1315.60" y1="1080.60" x2="1315.60" y2="1088.90" stroke="#000" stroke-width="1.35" />
<line x1="1315.60" y1="1440.60" x2="1315.60" y2="1432.30" stroke="#000" stroke-width="1.35" />
<line x1="1323.70" y1="1080.60" x2="1323.70" y2="1096.40" stroke="#000" stroke-width="1.35" />
<line x1="1323.70" y1="1440.60" x2="1323.70" y2="1424.80" stroke="#000" stroke-width="1.35" />
<line x1="1331.80" y1="1080.60" x2="1331.80" y2="1088.90" stroke="#000" stroke-width="1.35" />
<line x1="1331.80" y1="1440.60" x2="1331.80" y2="1432.30" stroke="#000" stroke-width="1.35" />
<line x1="1339.90" y1="1080.60" x2="1339.90" y2="1088.90" stroke="#000" stroke-width="1.35" />
<line x1="1339.90" y1="1440.60" x2="1339.90" y2="1432.30" stroke="#000" stroke-width="1.35" />
<line x1="120.60" y1="1440.60" x2="1348.00" y2="1440.60" stroke="#000" stroke-width="1.35" />
<line x1="120.60" y1="1800.60" x2="1348.00" y2="1800.60" stroke="#000" stroke-width="1.35" />
<line x1="120.60" y1="1788.19" x2="129.20" y2="1788.19" stroke="#000" stroke-width="1.35" />
<line x1="120.60" y1="1775.77" x2="129.20" y2="1775.77" stroke="#000" stroke-width="1.35" />
<line x1="120.60" y1="1763.36" x2="129.20" y2="1763.36" stroke="#000" stroke-width="1.35" />
<line x1="120.60" y1="1750.94" x2="129.20" y2="1750.94" stroke="#000" stroke-width="1.35" />
<line x1="120.60" y1="1738.53" x2="129.20" y2="1738.53" stroke="#000" stroke-width="1.35" />
<line x1="120.60" y1="1726.12" x2="129.20" y2="1726.12" stroke="#000" stroke-width="1.35" />
<line x1="120.60" y1="1713.70" x2="129.20" y2="1713.70" stroke="#000" stroke-width="1.35" />
<line x1="120.60" y1="1701.29" x2="129.20" y2="1701.29" stroke="#000" stroke-width="1.35" />
<line x1="120.60" y1="1688.88" x2="129.20" y2="1688.88" stroke="#000" stroke-width="1.35" />
<line x1="120.60" y1="1676.46" x2="136.60" y2="1676.46" stroke="#000" stroke-width="1.35" />
<line x1="120.60" y1="1664.05" x2="129.20" y2="1664.05" stroke="#000" stroke-width="1.35" />
<line x1="120.60" y1="1651.63" x2="129.20" y2="1651.63" stroke="#000" stroke-width="1.35" />
<line x1="120.60" y1="1639.22" x2="129.20" y2="1639.22" stroke="#000" stroke-width="1.35" />
<line x1="120.60" y1="1626.81" x2="129.20" y2="1626.81" stroke="#000" stroke-width="1.35" />
<line x1="120.60" y1="1614.39" x2="129.20" y2="1614.39" stroke="#000" stroke-width="1.35" />
<line x1="120.60" y1="1601.98" x2="129.20" y2="1601.98" stroke="#000" stroke-width="1.35" />
<line x1="120.60" y1="1589.57" x2="129.20" y2="1589.57" stroke="#000" stroke-width="1.35" />
<line x1="120.60" y1="1577.15" x2="129.20" y2="1577.15" stroke="#000" stroke-width="1.35" />
<line x1="120.60" y1="1564.74" x2="129.20" y2="1564.74" stroke="#000" stroke-width="1.35" />
<line x1="120.60" y1="1552.32" x2="136.60" y2="1552.32" stroke="#000" stroke-width="1.35" />
<line x1="120.60" y1="1539.91" x2="129.20" y2="1539.91" stroke="#000" stroke-width="1.35" />
<line x1="120.60" y1="1527.50" x2="129.20" y2="1527.50" stroke="#000" stroke-width="1.35" />
<line x1="120.60" y1="1515.08" x2="129.20" y2="1515.08" stroke="#000" stroke-width="1.35" />
<line x1="120.60" y1="1502.67" x2="129.20" y2="1502.67" stroke="#000" stroke-width="1.35" />
<line x1="120.60" y1="1490.26" x2="129.20" y2="1490.26" stroke="#000" stroke-width="1.35" />
<line x1="120.60" y1="1477.84" x2="129.20" y2="1477.84" stroke="#000" stroke-width="1.35" />
<line x1="120.60" y1="1465.43" x2="129.20" y2="1465.43" stroke="#000" stroke-width="1.35" />
<line x1="120.60" y1="1453.01" x2="129.20" y2="1453.01" stroke="#000" stroke-width="1.35" />
<line x1="734.40" y1="1775.77" x2="728.50" y2="1775.77" stroke="#000" stroke-width="1.35" />
<line x1="734.40" y1="1775.77" x2="742.80" y2="1775.77" stroke="#000" stroke-width="1.35" />
<line x1="1348.00" y1="1775.77" x2="1339.80" y2="1775.77" stroke="#000" stroke-width="1.35" />
<line x1="734.40" y1="1750.94" x2="728.50" y2="1750.94" stroke="#000" stroke-width="1.35" />
<line x1="734.40" y1="1750.94" x2="742.80" y2="1750.94" stroke="#000" stroke-width="1.35" />
<line x1="1348.00" y1="1750.94" x2="1339.80" y2="1750.94" stroke="#000" stroke-width="1.35" />
<line x1="734.40" y1="1726.12" x2="728.50" y2="1726.12" stroke="#000" stroke-width="1.35" />
<line x1="734.40" y1="1726.12" x2="742.80" y2="1726.12" stroke="#000" stroke-width="1.35" />
<line x1="1348.00" y1="1726.12" x2="1339.80" y2="1726.12" stroke="#000" stroke-width="1.35" />
<line x1="734.40" y1="1701.29" x2="728.50" y2="1701.29" stroke="#000" stroke-width="1.35" />
<line x1="734.40" y1="1701.29" x2="742.80" y2="1701.29" stroke="#000" stroke-width="1.35" />
<line x1="1348.00" y1="1701.29" x2="1339.80" y2="1701.29" stroke="#000" stroke-width="1.35" />
<line x1="734.40" y1="1676.46" x2="722.90" y2="1676.46" stroke="#000" stroke-width="1.35" />
<line x1="734.40" y1="1676.46" x2="750.40" y2="1676.46" stroke="#000" stroke-width="1.35" />
<line x1="1348.00" y1="1676.46" x2="1332.80" y2="1676.46" stroke="#000" stroke-width="1.35" />
<line x1="734.40" y1="1651.63" x2="728.50" y2="1651.63" stroke="#000" stroke-width="1.35" />
<line x1="734.40" y1="1651.63" x2="742.80" y2="1651.63" stroke="#000" stroke-width="1.35" />
<line x1="1348.00" y1="1651.63" x2="1339.80" y2="1651.63" stroke="#000" stroke-width="1.35" />
<line x1="734.40" y1="1626.81" x2="728.50" y2="1626.81" stroke="#000" stroke-width="1.35" />
<line x1="734.40" y1="1626.81" x2="742.80" y2="1626.81" stroke="#000" stroke-width="1.35" />
<line x1="1348.00" y1="1626.81" x2="1339.80" y2="1626.81" stroke="#000" stroke-width="1.35" />
<line x1="734.40" y1="1601.98" x2="728.50" y2="1601.98" stroke="#000" stroke-width="1.35" />
<line x1="734.40" y1="1601.98" x2="742.80" y2="1601.98" stroke="#000" stroke-width="1.35" />
<line x1="1348.00" y1="1601.98" x2="1339.80" y2="1601.98" stroke="#000" stroke-width="1.35" />
<line x1="734.40" y1="1577.15" x2="728.50" y2="1577.15" stroke="#000" stroke-width="1.35" />
<line x1="734.40" y1="1577.15" x2="742.80" y2="1577.15" stroke="#000" stroke-width="1.35" />
<line x1="1348.00" y1="1577.15" x2="1339.80" y2="1577.15" stroke="#000" stroke-width="1.35" />
<line x1="734.40" y1="1552.32" x2="722.90" y2="1552.32" stroke="#000" stroke-width="1.35" />
<line x1="734.40" y1="1552.32" x2="750.40" y2="1552.32" stroke="#000" stroke-width="1.35" />
<line x1="1348.00" y1="1552.32" x2="1332.80" y2="1552.32" stroke="#000" stroke-width="1.35" />
<line x1="734.40" y1="1527.50" x2="728.50" y2="1527.50" stroke="#000" stroke-width="1.35" />
<line x1="734.40" y1="1527.50" x2="742.80" y2="1527.50" stroke="#000" stroke-width="1.35" />
<line x1="1348.00" y1="1527.50" x2="1339.80" y2="1527.50" stroke="#000" stroke-width="1.35" />
<line x1="734.40" y1="1502.67" x2="728.50" y2="1502.67" stroke="#000" stroke-width="1.35" />
<line x1="734.40" y1="1502.67" x2="742.80" y2="1502.67" stroke="#000" stroke-width="1.35" />
<line x1="1348.00" y1="1502.67" x2="1339.80" y2="1502.67" stroke="#000" stroke-width="1.35" />
<line x1="734.40" y1="1477.84" x2="728.50" y2="1477.84" stroke="#000" stroke-width="1.35" />
<line x1="734.40" y1="1477.84" x2="742.80" y2="1477.84" stroke="#000" stroke-width="1.35" />
<line x1="1348.00" y1="1477.84" x2="1339.80" y2="1477.84" stroke="#000" stroke-width="1.35" />
<line x1="734.40" y1="1453.01" x2="728.50" y2="1453.01" stroke="#000" stroke-width="1.35" />
<line x1="734.40" y1="1453.01" x2="742.80" y2="1453.01" stroke="#000" stroke-width="1.35" />
<line x1="1348.00" y1="1453.01" x2="1339.80" y2="1453.01" stroke="#000" stroke-width="1.35" />
<line x1="150.88" y1="1440.60" x2="150.88" y2="1448.90" stroke="#000" stroke-width="1.35" />
<line x1="150.88" y1="1800.60" x2="150.88" y2="1792.30" stroke="#000" stroke-width="1.35" />
<line x1="181.15" y1="1440.60" x2="181.15" y2="1448.90" stroke="#000" stroke-width="1.35" />
<line x1="181.15" y1="1800.60" x2="181.15" y2="1792.30" stroke="#000" stroke-width="1.35" />
<line x1="211.42" y1="1440.60" x2="211.42" y2="1448.90" stroke="#000" stroke-width="1.35" />
<line x1="211.42" y1="1800.60" x2="211.42" y2="1792.30" stroke="#000" stroke-width="1.35" />
<line x1="241.70" y1="1440.60" x2="241.70" y2="1448.90" stroke="#000" stroke-width="1.35" />
<line x1="241.70" y1="1800.60" x2="241.70" y2="1792.30" stroke="#000" stroke-width="1.35" />
<line x1="271.98" y1="1440.60" x2="271.98" y2="1456.40" stroke="#000" stroke-width="1.35" />
<line x1="271.98" y1="1800.60" x2="271.98" y2="1784.80" stroke="#000" stroke-width="1.35" />
<line x1="302.25" y1="1440.60" x2="302.25" y2="1448.90" stroke="#000" stroke-width="1.35" />
<line x1="302.25" y1="1800.60" x2="302.25" y2="1792.30" stroke="#000" stroke-width="1.35" />
<line x1="332.52" y1="1440.60" x2="332.52" y2="1448.90" stroke="#000" stroke-width="1.35" />
<line x1="332.52" y1="1800.60" x2="332.52" y2="1792.30" stroke="#000" stroke-width="1.35" />
<line x1="362.80" y1="1440.60" x2="362.80" y2="1448.90" stroke="#000" stroke-width="1.35" />
<line x1="362.80" y1="1800.60" x2="362.80" y2="1792.30" stroke="#000" stroke-width="1.35" />
<line x1="393.07" y1="1440.60" x2="393.07" y2="1448.90" stroke="#000" stroke-width="1.35" />
<line x1="393.07" y1="1800.60" x2="393.07" y2="1792.30" stroke="#000" stroke-width="1.35" />
<line x1="423.35" y1="1440.60" x2="423.35" y2="1456.40" stroke="#000" stroke-width="1.35" />
<line x1="423.35" y1="1800.60" x2="423.35" y2="1784.80" stroke="#000" stroke-width="1.35" />
<line x1="453.62" y1="1440.60" x2="453.62" y2="1448.90" stroke="#000" stroke-width="1.35" />
<line x1="453.62" y1="1800.60" x2="453.62" y2="1792.30" stroke="#000" stroke-width="1.35" />
<line x1="483.90" y1="1440.60" x2="483.90" y2="1448.90" stroke="#000" stroke-width="1.35" />
<line x1="483.90" y1="1800.60" x2="483.90" y2="1792.30" stroke="#000" stroke-width="1.35" />
<line x1="514.17" y1="1440.60" x2="514.17" y2="1448.90" stroke="#000" stroke-width="1.35" />
<line x1="514.17" y1="1800.60" x2="514.17" y2="1792.30" stroke="#000" stroke-width="1.35" />
<line x1="544.45" y1="1440.60" x2="544.45" y2="1448.90" stroke="#000" stroke-width="1.35" />
<line x1="544.45" y1="1800.60" x2="544.45" y2="1792.30" stroke="#000" stroke-width="1.35" />
<line x1="574.73" y1="1440.60" x2="574.73" y2="1456.40" stroke="#000" stroke-width="1.35" />
<line x1="574.73" y1="1800.60" x2="574.73" y2="1784.80" stroke="#000" stroke-width="1.35" />
<line x1="617.94" y1="1440.60" x2="617.94" y2="1446.50" stroke="#000" stroke-width="1.35" />
<line x1="617.94" y1="1800.60" x2="617.94" y2="1794.70" stroke="#000" stroke-width="1.35" />
<line x1="630.88" y1="1440.60" x2="630.88" y2="1446.50" stroke="#000" stroke-width="1.35" />
<line x1="630.88" y1="1800.60" x2="630.88" y2="1794.70" stroke="#000" stroke-width="1.35" />
<line x1="643.82" y1="1440.60" x2="643.82" y2="1446.50" stroke="#000" stroke-width="1.35" />
<line x1="643.82" y1="1800.60" x2="643.82" y2="1794.70" stroke="#000" stroke-width="1.35" />
<line x1="656.76" y1="1440.60" x2="656.76" y2="1446.50" stroke="#000" stroke-width="1.35" />
<line x1="656.76" y1="1800.60" x2="656.76" y2="1794.70" stroke="#000" stroke-width="1.35" />
<line x1="669.70" y1="1440.60" x2="669.70" y2="1452.10" stroke="#000" stroke-width="1.35" />
<line x1="669.70" y1="1800.60" x2="669.70" y2="1789.10" stroke="#000" stroke-width="1.35" />
<line x1="682.64" y1="1440.60" x2="682.64" y2="1446.50" stroke="#000" stroke-width="1.35" />
<line x1="682.64" y1="1800.60" x2="682.64" y2="1794.70" stroke="#000" stroke-width="1.35" />
<line x1="695.58" y1="1440.60" x2="695.58" y2="1446.50" stroke="#000" stroke-width="1.35" />
<line x1="695.58" y1="1800.60" x2="695.58" y2="1794.70" stroke="#000" stroke-width="1.35" />
<line x1="708.52" y1="1440.60" x2="708.52" y2="1446.50" stroke="#000" stroke-width="1.35" />
<line x1="708.52" y1="1800.60" x2="708.52" y2="1794.70" stroke="#000" stroke-width="1.35" />
<line x1="721.46" y1="1440.60" x2="721.46" y2="1446.50" stroke="#000" stroke-width="1.35" />
<line x1="721.46" y1="1800.60" x2="721.46" y2="1794.70" stroke="#000" stroke-width="1.35" />
<line x1="782.80" y1="1440.60" x2="782.80" y2="1448.60" stroke="#000" stroke-width="1.35" />
<line x1="782.80" y1="1800.60" x2="782.80" y2="1792.60" stroke="#000" stroke-width="1.35" />
<line x1="831.20" y1="1440.60" x2="831.20" y2="1456.40" stroke="#000" stroke-width="1.35" />
<line x1="831.20" y1="1800.60" x2="831.20" y2="1784.80" stroke="#000" stroke-width="1.35" />
<line x1="879.60" y1="1440.60" x2="879.60" y2="1448.60" stroke="#000" stroke-width="1.35" />
<line x1="879.60" y1="1800.60" x2="879.60" y2="1792.60" stroke="#000" stroke-width="1.35" />
<line x1="928.00" y1="1440.60" x2="928.00" y2="1456.40" stroke="#000" stroke-width="1.35" />
<line x1="928.00" y1="1800.60" x2="928.00" y2="1784.80" stroke="#000" stroke-width="1.35" />
<line x1="976.40" y1="1440.60" x2="976.40" y2="1448.60" stroke="#000" stroke-width="1.35" />
<line x1="976.40" y1="1800.60" x2="976.40" y2="1792.60" stroke="#000" stroke-width="1.35" />
<line x1="1024.80" y1="1440.60" x2="1024.80" y2="1456.40" stroke="#000" stroke-width="1.35" />
<line x1="1024.80" y1="1800.60" x2="1024.80" y2="1784.80" stroke="#000" stroke-width="1.35" />
<line x1="1073.20" y1="1440.60" x2="1073.20" y2="1448.60" stroke="#000" stroke-width="1.35" />
<line x1="1073.20" y1="1800.60" x2="1073.20" y2="1792.60" stroke="#000" stroke-width="1.35" />
<line x1="1121.60" y1="1440.60" x2="1121.60" y2="1456.40" stroke="#000" stroke-width="1.35" />
<line x1="1121.60" y1="1800.60" x2="1121.60" y2="1784.80" stroke="#000" stroke-width="1.35" />
<line x1="1170.00" y1="1440.60" x2="1170.00" y2="1448.60" stroke="#000" stroke-width="1.35" />
<line x1="1170.00" y1="1800.60" x2="1170.00" y2="1792.60" stroke="#000" stroke-width="1.35" />
<line x1="1218.40" y1="1440.60" x2="1218.40" y2="1448.90" stroke="#000" stroke-width="1.35" />
<line x1="1218.40" y1="1800.60" x2="1218.40" y2="1792.30" stroke="#000" stroke-width="1.35" />
<line x1="1226.50" y1="1440.60" x2="1226.50" y2="1448.90" stroke="#000" stroke-width="1.35" />
<line x1="1226.50" y1="1800.60" x2="1226.50" y2="1792.30" stroke="#000" stroke-width="1.35" />
<line x1="1234.60" y1="1440.60" x2="1234.60" y2="1448.90" stroke="#000" stroke-width="1.35" />
<line x1="1234.60" y1="1800.60" x2="1234.60" y2="1792.30" stroke="#000" stroke-width="1.35" />
<line x1="1242.70" y1="1440.60" x2="1242.70" y2="1456.40" stroke="#000" stroke-width="1.35" />
<line x1="1242.70" y1="1800.60" x2="1242.70" y2="1784.80" stroke="#000" stroke-width="1.35" />
<line x1="1250.80" y1="1440.60" x2="1250.80" y2="1448.90" stroke="#000" stroke-width="1.35" />
<line x1="1250.80" y1="1800.60" x2="1250.80" y2="1792.30" stroke="#000" stroke-width="1.35" />
<line x1="1258.90" y1="1440.60" x2="1258.90" y2="1448.90" stroke="#000" stroke-width="1.35" />
<line x1="1258.90" y1="1800.60" x2="1258.90" y2="1792.30" stroke="#000" stroke-width="1.35" />
<line x1="1267.00" y1="1440.60" x2="1267.00" y2="1448.90" stroke="#000" stroke-width="1.35" />
<line x1="1267.00" y1="1800.60" x2="1267.00" y2="1792.30" stroke="#000" stroke-width="1.35" />
<line x1="1275.10" y1="1440.60" x2="1275.10" y2="1448.90" stroke="#000" stroke-width="1.35" />
<line x1="1275.10" y1="1800.60" x2="1275.10" y2="1792.30" stroke="#000" stroke-width="1.35" />
<line x1="1283.20" y1="1440.60" x2="1283.20" y2="1456.40" stroke="#000" stroke-width="1.35" />
<line x1="1283.20" y1="1800.60" x2="1283.20" y2="1784.80" stroke="#000" stroke-width="1.35" />
<line x1="1291.30" y1="1440.60" x2="1291.30" y2="1448.90" stroke="#000" stroke-width="1.35" />
<line x1="1291.30" y1="1800.60" x2="1291.30" y2="1792.30" stroke="#000" stroke-width="1.35" />
<line x1="1299.40" y1="1440.60" x2="1299.40" y2="1448.90" stroke="#000" stroke-width="1.35" />
<line x1="1299.40" y1="1800.60" x2="1299.40" y2="1792.30" stroke="#000" stroke-width="1.35" />
<line x1="1307.50" y1="1440.60" x2="1307.50" y2="1448.90" stroke="#000" stroke-width="1.35" />
<line x1="1307.50" y1="1800.60" x2="1307.50" y2="1792.30" stroke="#000" stroke-width="1.35" />
<line x1="1315.60" y1="1440.60" x2="1315.60" y2="1448.90" stroke="#000" stroke-width="1.35" />
<line x1="1315.60" y1="1800.60" x2="1315.60" y2="1792.30" stroke="#000" stroke-width="1.35" />
<line x1="1323.70" y1="1440.60" x2="1323.70" y2="1456.40" stroke="#000" stroke-width="1.35" />
<line x1="1323.70" y1="1800.60" x2="1323.70" y2="1784.80" stroke="#000" stroke-width="1.35" />
<line x1="1331.80" y1="1440.60" x2="1331.80" y2="1448.90" stroke="#000" stroke-width="1.35" />
<line x1="1331.80" y1="1800.60" x2="1331.80" y2="1792.30" stroke="#000" stroke-width="1.35" />
<line x1="1339.90" y1="1440.60" x2="1339.90" y2="1448.90" stroke="#000" stroke-width="1.35" />
<line x1="1339.90" y1="1800.60" x2="1339.90" y2="1792.30" stroke="#000" stroke-width="1.35" />
<line x1="120.60" y1="1800.60" x2="1348.00" y2="1800.60" stroke="#000" stroke-width="1.35" />
<line x1="120.60" y1="2160.60" x2="1348.00" y2="2160.60" stroke="#000" stroke-width="1.35" />
<line x1="120.60" y1="2138.10" x2="129.20" y2="2138.10" stroke="#000" stroke-width="1.35" />
<line x1="120.60" y1="2115.60" x2="129.20" y2="2115.60" stroke="#000" stroke-width="1.35" />
<line x1="120.60" y1="2093.10" x2="136.60" y2="2093.10" stroke="#000" stroke-width="1.35" />
<line x1="120.60" y1="2070.60" x2="129.20" y2="2070.60" stroke="#000" stroke-width="1.35" />
<line x1="120.60" y1="2048.10" x2="129.20" y2="2048.10" stroke="#000" stroke-width="1.35" />
<line x1="120.60" y1="2025.60" x2="129.20" y2="2025.60" stroke="#000" stroke-width="1.35" />
<line x1="120.60" y1="2003.10" x2="129.20" y2="2003.10" stroke="#000" stroke-width="1.35" />
<line x1="120.60" y1="1980.60" x2="136.60" y2="1980.60" stroke="#000" stroke-width="1.35" />
<line x1="120.60" y1="1958.10" x2="129.20" y2="1958.10" stroke="#000" stroke-width="1.35" />
<line x1="120.60" y1="1935.60" x2="129.20" y2="1935.60" stroke="#000" stroke-width="1.35" />
<line x1="120.60" y1="1913.10" x2="129.20" y2="1913.10" stroke="#000" stroke-width="1.35" />
<line x1="120.60" y1="1890.60" x2="129.20" y2="1890.60" stroke="#000" stroke-width="1.35" />
<line x1="120.60" y1="1868.10" x2="136.60" y2="1868.10" stroke="#000" stroke-width="1.35" />
<line x1="120.60" y1="1845.60" x2="129.20" y2="1845.60" stroke="#000" stroke-width="1.35" />
<line x1="120.60" y1="1823.10" x2="129.20" y2="1823.10" stroke="#000" stroke-width="1.35" />
<line x1="734.40" y1="2138.10" x2="726.20" y2="2138.10" stroke="#000" stroke-width="1.35" />
<line x1="734.40" y1="2138.10" x2="742.80" y2="2138.10" stroke="#000" stroke-width="1.35" />
<line x1="1348.00" y1="2138.10" x2="1339.80" y2="2138.10" stroke="#000" stroke-width="1.35" />
<line x1="734.40" y1="2115.60" x2="726.20" y2="2115.60" stroke="#000" stroke-width="1.35" />
<line x1="734.40" y1="2115.60" x2="742.80" y2="2115.60" stroke="#000" stroke-width="1.35" />
<line x1="1348.00" y1="2115.60" x2="1339.80" y2="2115.60" stroke="#000" stroke-width="1.35" />
<line x1="734.40" y1="2093.10" x2="718.60" y2="2093.10" stroke="#000" stroke-width="1.35" />
<line x1="734.40" y1="2093.10" x2="750.40" y2="2093.10" stroke="#000" stroke-width="1.35" />
<line x1="1348.00" y1="2093.10" x2="1332.80" y2="2093.10" stroke="#000" stroke-width="1.35" />
<line x1="734.40" y1="2070.60" x2="726.20" y2="2070.60" stroke="#000" stroke-width="1.35" />
<line x1="734.40" y1="2070.60" x2="742.80" y2="2070.60" stroke="#000" stroke-width="1.35" />
<line x1="1348.00" y1="2070.60" x2="1339.80" y2="2070.60" stroke="#000" stroke-width="1.35" />
<line x1="734.40" y1="2048.10" x2="726.20" y2="2048.10" stroke="#000" stroke-width="1.35" />
<line x1="734.40" y1="2048.10" x2="742.80" y2="2048.10" stroke="#000" stroke-width="1.35" />
<line x1="1348.00" y1="2048.10" x2="1339.80" y2="2048.10" stroke="#000" stroke-width="1.35" />
<line x1="734.40" y1="2025.60" x2="726.20" y2="2025.60" stroke="#000" stroke-width="1.35" />
<line x1="734.40" y1="2025.60" x2="742.80" y2="2025.60" stroke="#000" stroke-width="1.35" />
<line x1="1348.00" y1="2025.60" x2="1339.80" y2="2025.60" stroke="#000" stroke-width="1.35" />
<line x1="734.40" y1="2003.10" x2="726.20" y2="2003.10" stroke="#000" stroke-width="1.35" />
<line x1="734.40" y1="2003.10" x2="742.80" y2="2003.10" stroke="#000" stroke-width="1.35" />
<line x1="1348.00" y1="2003.10" x2="1339.80" y2="2003.10" stroke="#000" stroke-width="1.35" />
<line x1="734.40" y1="1980.60" x2="718.60" y2="1980.60" stroke="#000" stroke-width="1.35" />
<line x1="734.40" y1="1980.60" x2="750.40" y2="1980.60" stroke="#000" stroke-width="1.35" />
<line x1="1348.00" y1="1980.60" x2="1332.80" y2="1980.60" stroke="#000" stroke-width="1.35" />
<line x1="734.40" y1="1958.10" x2="726.20" y2="1958.10" stroke="#000" stroke-width="1.35" />
<line x1="734.40" y1="1958.10" x2="742.80" y2="1958.10" stroke="#000" stroke-width="1.35" />
<line x1="1348.00" y1="1958.10" x2="1339.80" y2="1958.10" stroke="#000" stroke-width="1.35" />
<line x1="734.40" y1="1935.60" x2="726.20" y2="1935.60" stroke="#000" stroke-width="1.35" />
<line x1="734.40" y1="1935.60" x2="742.80" y2="1935.60" stroke="#000" stroke-width="1.35" />
<line x1="1348.00" y1="1935.60" x2="1339.80" y2="1935.60" stroke="#000" stroke-width="1.35" />
<line x1="734.40" y1="1913.10" x2="726.20" y2="1913.10" stroke="#000" stroke-width="1.35" />
<line x1="734.40" y1="1913.10" x2="742.80" y2="1913.10" stroke="#000" stroke-width="1.35" />
<line x1="1348.00" y1="1913.10" x2="1339.80" y2="1913.10" stroke="#000" stroke-width="1.35" />
<line x1="734.40" y1="1890.60" x2="726.20" y2="1890.60" stroke="#000" stroke-width="1.35" />
<line x1="734.40" y1="1890.60" x2="742.80" y2="1890.60" stroke="#000" stroke-width="1.35" />
<line x1="1348.00" y1="1890.60" x2="1339.80" y2="1890.60" stroke="#000" stroke-width="1.35" />
<line x1="734.40" y1="1868.10" x2="718.60" y2="1868.10" stroke="#000" stroke-width="1.35" />
<line x1="734.40" y1="1868.10" x2="750.40" y2="1868.10" stroke="#000" stroke-width="1.35" />
<line x1="1348.00" y1="1868.10" x2="1332.80" y2="1868.10" stroke="#000" stroke-width="1.35" />
<line x1="734.40" y1="1845.60" x2="726.20" y2="1845.60" stroke="#000" stroke-width="1.35" />
<line x1="734.40" y1="1845.60" x2="742.80" y2="1845.60" stroke="#000" stroke-width="1.35" />
<line x1="1348.00" y1="1845.60" x2="1339.80" y2="1845.60" stroke="#000" stroke-width="1.35" />
<line x1="734.40" y1="1823.10" x2="726.20" y2="1823.10" stroke="#000" stroke-width="1.35" />
<line x1="734.40" y1="1823.10" x2="742.80" y2="1823.10" stroke="#000" stroke-width="1.35" />
<line x1="1348.00" y1="1823.10" x2="1339.80" y2="1823.10" stroke="#000" stroke-width="1.35" />
<line x1="150.88" y1="1800.60" x2="150.88" y2="1808.90" stroke="#000" stroke-width="1.35" />
<line x1="150.88" y1="2160.60" x2="150.88" y2="2152.30" stroke="#000" stroke-width="1.35" />
<line x1="181.15" y1="1800.60" x2="181.15" y2="1808.90" stroke="#000" stroke-width="1.35" />
<line x1="181.15" y1="2160.60" x2="181.15" y2="2152.30" stroke="#000" stroke-width="1.35" />
<line x1="211.42" y1="1800.60" x2="211.42" y2="1808.90" stroke="#000" stroke-width="1.35" />
<line x1="211.42" y1="2160.60" x2="211.42" y2="2152.30" stroke="#000" stroke-width="1.35" />
<line x1="241.70" y1="1800.60" x2="241.70" y2="1808.90" stroke="#000" stroke-width="1.35" />
<line x1="241.70" y1="2160.60" x2="241.70" y2="2152.30" stroke="#000" stroke-width="1.35" />
<line x1="271.98" y1="1800.60" x2="271.98" y2="1816.40" stroke="#000" stroke-width="1.35" />
<line x1="271.98" y1="2160.60" x2="271.98" y2="2144.80" stroke="#000" stroke-width="1.35" />
<line x1="302.25" y1="1800.60" x2="302.25" y2="1808.90" stroke="#000" stroke-width="1.35" />
<line x1="302.25" y1="2160.60" x2="302.25" y2="2152.30" stroke="#000" stroke-width="1.35" />
<line x1="332.52" y1="1800.60" x2="332.52" y2="1808.90" stroke="#000" stroke-width="1.35" />
<line x1="332.52" y1="2160.60" x2="332.52" y2="2152.30" stroke="#000" stroke-width="1.35" />
<line x1="362.80" y1="1800.60" x2="362.80" y2="1808.90" stroke="#000" stroke-width="1.35" />
<line x1="362.80" y1="2160.60" x2="362.80" y2="2152.30" stroke="#000" stroke-width="1.35" />
<line x1="393.07" y1="1800.60" x2="393.07" y2="1808.90" stroke="#000" stroke-width="1.35" />
<line x1="393.07" y1="2160.60" x2="393.07" y2="2152.30" stroke="#000" stroke-width="1.35" />
<line x1="423.35" y1="1800.60" x2="423.35" y2="1816.40" stroke="#000" stroke-width="1.35" />
<line x1="423.35" y1="2160.60" x2="423.35" y2="2144.80" stroke="#000" stroke-width="1.35" />
<line x1="453.62" y1="1800.60" x2="453.62" y2="1808.90" stroke="#000" stroke-width="1.35" />
<line x1="453.62" y1="2160.60" x2="453.62" y2="2152.30" stroke="#000" stroke-width="1.35" />
<line x1="483.90" y1="1800.60" x2="483.90" y2="1808.90" stroke="#000" stroke-width="1.35" />
<line x1="483.90" y1="2160.60" x2="483.90" y2="2152.30" stroke="#000" stroke-width="1.35" />
<line x1="514.17" y1="1800.60" x2="514.17" y2="1808.90" stroke="#000" stroke-width="1.35" />
<line x1="514.17" y1="2160.60" x2="514.17" y2="2152.30" stroke="#000" stroke-width="1.35" />
<line x1="544.45" y1="1800.60" x2="544.45" y2="1808.90" stroke="#000" stroke-width="1.35" />
<line x1="544.45" y1="2160.60" x2="544.45" y2="2152.30" stroke="#000" stroke-width="1.35" />
<line x1="574.73" y1="1800.60" x2="574.73" y2="1816.40" stroke="#000" stroke-width="1.35" />
<line x1="574.73" y1="2160.60" x2="574.73" y2="2144.80" stroke="#000" stroke-width="1.35" />
<line x1="613.63" y1="1800.60" x2="613.63" y2="1808.80" stroke="#000" stroke-width="1.35" />
<line x1="613.63" y1="2160.60" x2="613.63" y2="2152.40" stroke="#000" stroke-width="1.35" />
<line x1="622.25" y1="1800.60" x2="622.25" y2="1808.80" stroke="#000" stroke-width="1.35" />
<line x1="622.25" y1="2160.60" x2="622.25" y2="2152.40" stroke="#000" stroke-width="1.35" />
<line x1="630.88" y1="1800.60" x2="630.88" y2="1808.80" stroke="#000" stroke-width="1.35" />
<line x1="630.88" y1="2160.60" x2="630.88" y2="2152.40" stroke="#000" stroke-width="1.35" />
<line x1="639.51" y1="1800.60" x2="639.51" y2="1808.80" stroke="#000" stroke-width="1.35" />
<line x1="639.51" y1="2160.60" x2="639.51" y2="2152.40" stroke="#000" stroke-width="1.35" />
<line x1="648.13" y1="1800.60" x2="648.13" y2="1816.40" stroke="#000" stroke-width="1.35" />
<line x1="648.13" y1="2160.60" x2="648.13" y2="2144.80" stroke="#000" stroke-width="1.35" />
<line x1="656.76" y1="1800.60" x2="656.76" y2="1808.80" stroke="#000" stroke-width="1.35" />
<line x1="656.76" y1="2160.60" x2="656.76" y2="2152.40" stroke="#000" stroke-width="1.35" />
<line x1="665.39" y1="1800.60" x2="665.39" y2="1808.80" stroke="#000" stroke-width="1.35" />
<line x1="665.39" y1="2160.60" x2="665.39" y2="2152.40" stroke="#000" stroke-width="1.35" />
<line x1="674.01" y1="1800.60" x2="674.01" y2="1808.80" stroke="#000" stroke-width="1.35" />
<line x1="674.01" y1="2160.60" x2="674.01" y2="2152.40" stroke="#000" stroke-width="1.35" />
<line x1="682.64" y1="1800.60" x2="682.64" y2="1808.80" stroke="#000" stroke-width="1.35" />
<line x1="682.64" y1="2160.60" x2="682.64" y2="2152.40" stroke="#000" stroke-width="1.35" />
<line x1="691.27" y1="1800.60" x2="691.27" y2="1816.40" stroke="#000" stroke-width="1.35" />
<line x1="691.27" y1="2160.60" x2="691.27" y2="2144.80" stroke="#000" stroke-width="1.35" />
<line x1="699.89" y1="1800.60" x2="699.89" y2="1808.80" stroke="#000" stroke-width="1.35" />
<line x1="699.89" y1="2160.60" x2="699.89" y2="2152.40" stroke="#000" stroke-width="1.35" />
<line x1="708.52" y1="1800.60" x2="708.52" y2="1808.80" stroke="#000" stroke-width="1.35" />
<line x1="708.52" y1="2160.60" x2="708.52" y2="2152.40" stroke="#000" stroke-width="1.35" />
<line x1="717.15" y1="1800.60" x2="717.15" y2="1808.80" stroke="#000" stroke-width="1.35" />
<line x1="717.15" y1="2160.60" x2="717.15" y2="2152.40" stroke="#000" stroke-width="1.35" />
<line x1="725.77" y1="1800.60" x2="725.77" y2="1808.80" stroke="#000" stroke-width="1.35" />
<line x1="725.77" y1="2160.60" x2="725.77" y2="2152.40" stroke="#000" stroke-width="1.35" />
<line x1="782.80" y1="1800.60" x2="782.80" y2="1808.60" stroke="#000" stroke-width="1.35" />
<line x1="782.80" y1="2160.60" x2="782.80" y2="2152.60" stroke="#000" stroke-width="1.35" />
<line x1="831.20" y1="1800.60" x2="831.20" y2="1816.40" stroke="#000" stroke-width="1.35" />
<line x1="831.20" y1="2160.60" x2="831.20" y2="2144.80" stroke="#000" stroke-width="1.35" />
<line x1="879.60" y1="1800.60" x2="879.60" y2="1808.60" stroke="#000" stroke-width="1.35" />
<line x1="879.60" y1="2160.60" x2="879.60" y2="2152.60" stroke="#000" stroke-width="1.35" />
<line x1="928.00" y1="1800.60" x2="928.00" y2="1816.40" stroke="#000" stroke-width="1.35" />
<line x1="928.00" y1="2160.60" x2="928.00" y2="2144.80" stroke="#000" stroke-width="1.35" />
<line x1="976.40" y1="1800.60" x2="976.40" y2="1808.60" stroke="#000" stroke-width="1.35" />
<line x1="976.40" y1="2160.60" x2="976.40" y2="2152.60" stroke="#000" stroke-width="1.35" />
<line x1="1024.80" y1="1800.60" x2="1024.80" y2="1816.40" stroke="#000" stroke-width="1.35" />
<line x1="1024.80" y1="2160.60" x2="1024.80" y2="2144.80" stroke="#000" stroke-width="1.35" />
<line x1="1073.20" y1="1800.60" x2="1073.20" y2="1808.60" stroke="#000" stroke-width="1.35" />
<line x1="1073.20" y1="2160.60" x2="1073.20" y2="2152.60" stroke="#000" stroke-width="1.35" />
<line x1="1121.60" y1="1800.60" x2="1121.60" y2="1816.40" stroke="#000" stroke-width="1.35" />
<line x1="1121.60" y1="2160.60" x2="1121.60" y2="2144.80" stroke="#000" stroke-width="1.35" />
<line x1="1170.00" y1="1800.60" x2="1170.00" y2="1808.60" stroke="#000" stroke-width="1.35" />
<line x1="1170.00" y1="2160.60" x2="1170.00" y2="2152.60" stroke="#000" stroke-width="1.35" />
<line x1="1218.40" y1="1800.60" x2="1218.40" y2="1808.90" stroke="#000" stroke-width="1.35" />
<line x1="1218.40" y1="2160.60" x2="1218.40" y2="2152.30" stroke="#000" stroke-width="1.35" />
<line x1="1226.50" y1="1800.60" x2="1226.50" y2="1808.90" stroke="#000" stroke-width="1.35" />
<line x1="1226.50" y1="2160.60" x2="1226.50" y2="2152.30" stroke="#000" stroke-width="1.35" />
<line x1="1234.60" y1="1800.60" x2="1234.60" y2="1808.90" stroke="#000" stroke-width="1.35" />
<line x1="1234.60" y1="2160.60" x2="1234.60" y2="2152.30" stroke="#000" stroke-width="1.35" />
<line x1="1242.70" y1="1800.60" x2="1242.70" y2="1816.40" stroke="#000" stroke-width="1.35" />
<line x1="1242.70" y1="2160.60" x2="1242.70" y2="2144.80" stroke="#000" stroke-width="1.35" />
<line x1="1250.80" y1="1800.60" x2="1250.80" y2="1808.90" stroke="#000" stroke-width="1.35" />
<line x1="1250.80" y1="2160.60" x2="1250.80" y2="2152.30" stroke="#000" stroke-width="1.35" />
<line x1="1258.90" y1="1800.60" x2="1258.90" y2="1808.90" stroke="#000" stroke-width="1.35" />
<line x1="1258.90" y1="2160.60" x2="1258.90" y2="2152.30" stroke="#000" stroke-width="1.35" />
<line x1="1267.00" y1="1800.60" x2="1267.00" y2="1808.90" stroke="#000" stroke-width="1.35" />
<line x1="1267.00" y1="2160.60" x2="1267.00" y2="2152.30" stroke="#000" stroke-width="1.35" />
<line x1="1275.10" y1="1800.60" x2="1275.10" y2="1808.90" stroke="#000" stroke-width="1.35" />
<line x1="1275.10" y1="2160.60" x2="1275.10" y2="2152.30" stroke="#000" stroke-width="1.35" />
<line x1="1283.20" y1="1800.60" x2="1283.20" y2="1816.40" stroke="#000" stroke-width="1.35" />
<line x1="1283.20" y1="2160.60" x2="1283.20" y2="2144.80" stroke="#000" stroke-width="1.35" />
<line x1="1291.30" y1="1800.60" x2="1291.30" y2="1808.90" stroke="#000" stroke-width="1.35" />
<line x1="1291.30" y1="2160.60" x2="1291.30" y2="2152.30" stroke="#000" stroke-width="1.35" />
<line x1="1299.40" y1="1800.60" x2="1299.40" y2="1808.90" stroke="#000" stroke-width="1.35" />
<line x1="1299.40" y1="2160.60" x2="1299.40" y2="2152.30" stroke="#000" stroke-width="1.35" />
<line x1="1307.50" y1="1800.60" x2="1307.50" y2="1808.90" stroke="#000" stroke-width="1.35" />
<line x1="1307.50" y1="2160.60" x2="1307.50" y2="2152.30" stroke="#000" stroke-width="1.35" />
<line x1="1315.60" y1="1800.60" x2="1315.60" y2="1808.90" stroke="#000" stroke-width="1.35" />
<line x1="1315.60" y1="2160.60" x2="1315.60" y2="2152.30" stroke="#000" stroke-width="1.35" />
<line x1="1323.70" y1="1800.60" x2="1323.70" y2="1816.40" stroke="#000" stroke-width="1.35" />
<line x1="1323.70" y1="2160.60" x2="1323.70" y2="2144.80" stroke="#000" stroke-width="1.35" />
<line x1="1331.80" y1="1800.60" x2="1331.80" y2="1808.90" stroke="#000" stroke-width="1.35" />
<line x1="1331.80" y1="2160.60" x2="1331.80" y2="2152.30" stroke="#000" stroke-width="1.35" />
<line x1="1339.90" y1="1800.60" x2="1339.90" y2="1808.90" stroke="#000" stroke-width="1.35" />
<line x1="1339.90" y1="2160.60" x2="1339.90" y2="2152.30" stroke="#000" stroke-width="1.35" />
<line x1="120.60" y1="0.60" x2="120.60" y2="2160.60" stroke="#000" stroke-width="1.5" />
<line x1="734.40" y1="0.60" x2="734.40" y2="2160.60" stroke="#000" stroke-width="1.5" />
<line x1="1348.00" y1="0.60" x2="1348.00" y2="2160.60" stroke="#000" stroke-width="1.5" />
<text transform="translate(135.27,37.60) scale(1.1803,1)" font-size="34.5" fill="#000" stroke="#fff" stroke-width="0.6">282&lt;l&lt;294°</text>
<text transform="translate(348.45,37.60) scale(0.8333,1)" font-size="34.5" fill="#000" stroke="#fff" stroke-width="0.6">&amp;</text>
<text transform="translate(389.17,37.60) scale(1.1724,1)" font-size="34.5" fill="#000" stroke="#fff" stroke-width="0.6">|b|&lt;8°</text>
<text transform="translate(611.12,37.10) scale(1.2138,1)" font-size="34.5" fill="#000" stroke="#fff" stroke-width="0.6">Carina</text>
<text transform="translate(904.69,29.60) scale(1.1671,1)" font-size="34.5" fill="#000" stroke="#fff" stroke-width="0.6">&lt;B&gt;=</text>
<text transform="translate(1002.37,29.60) scale(1.1778,1)" font-size="34.5" fill="#000" stroke="#fff" stroke-width="0.6">−1.2±1.0<tspan font-style="italic">μ</tspan>G</text>
<text transform="translate(135.27,397.00) scale(1.1803,1)" font-size="34.5" fill="#000" stroke="#fff" stroke-width="0.6">294&lt;l&lt;304°</text>
<text transform="translate(348.45,397.00) scale(0.8333,1)" font-size="34.5" fill="#000" stroke="#fff" stroke-width="0.6">&amp;</text>
<text transform="translate(389.17,397.00) scale(1.1724,1)" font-size="34.5" fill="#000" stroke="#fff" stroke-width="0.6">|b|&lt;8°</text>
<text transform="translate(501.73,397.10) scale(1.2137,1)" font-size="34.5" fill="#000" stroke="#fff" stroke-width="0.6">Carina−Crux</text>
<text transform="translate(904.69,389.60) scale(1.1671,1)" font-size="34.5" fill="#000" stroke="#fff" stroke-width="0.6">&lt;B&gt;=</text>
<text transform="translate(1018.69,389.60) scale(1.1620,1)" font-size="34.5" fill="#000" stroke="#fff" stroke-width="0.6">1.9±0.3<tspan font-style="italic">μ</tspan>G</text>
<text transform="translate(135.27,749.60) scale(1.1803,1)" font-size="34.5" fill="#000" stroke="#fff" stroke-width="0.6">304&lt;l&lt;316°</text>
<text transform="translate(348.45,749.60) scale(0.8333,1)" font-size="34.5" fill="#000" stroke="#fff" stroke-width="0.6">&amp;</text>
<text transform="translate(389.17,749.60) scale(1.1724,1)" font-size="34.5" fill="#000" stroke="#fff" stroke-width="0.6">|b|&lt;8°</text>
<text transform="translate(641.40,757.10) scale(1.1594,1)" font-size="34.5" fill="#000" stroke="#fff" stroke-width="0.6">Crux</text>
<text transform="translate(880.59,749.60) scale(1.1671,1)" font-size="34.5" fill="#000" stroke="#fff" stroke-width="0.6">&lt;B&gt;=</text>
<text transform="translate(978.27,749.60) scale(1.1753,1)" font-size="34.5" fill="#000" stroke="#fff" stroke-width="0.6">−1.6±0.5<tspan font-style="italic">μ</tspan>G</text>
<text transform="translate(135.27,1109.60) scale(1.1803,1)" font-size="34.5" fill="#000" stroke="#fff" stroke-width="0.6">316&lt;l&lt;325°</text>
<text transform="translate(348.45,1109.60) scale(0.8333,1)" font-size="34.5" fill="#000" stroke="#fff" stroke-width="0.6">&amp;</text>
<text transform="translate(389.17,1109.60) scale(1.1724,1)" font-size="34.5" fill="#000" stroke="#fff" stroke-width="0.6">|b|&lt;8°</text>
<text transform="translate(496.93,1117.10) scale(1.2082,1)" font-size="34.5" fill="#000" stroke="#fff" stroke-width="0.6">Crux−Norma</text>
<text transform="translate(880.59,1109.60) scale(1.1671,1)" font-size="34.5" fill="#000" stroke="#fff" stroke-width="0.6">&lt;B&gt;=</text>
<text transform="translate(994.61,1109.60) scale(1.1564,1)" font-size="34.5" fill="#000" stroke="#fff" stroke-width="0.6">1.3±0.3<tspan font-style="italic">μ</tspan>G</text>
<text transform="translate(135.27,1469.60) scale(1.1803,1)" font-size="34.5" fill="#000" stroke="#fff" stroke-width="0.6">325&lt;l&lt;335°</text>
<text transform="translate(348.45,1469.60) scale(0.8333,1)" font-size="34.5" fill="#000" stroke="#fff" stroke-width="0.6">&amp;</text>
<text transform="translate(389.17,1469.60) scale(1.1724,1)" font-size="34.5" fill="#000" stroke="#fff" stroke-width="0.6">|b|&lt;8°</text>
<text transform="translate(606.18,1477.10) scale(1.1817,1)" font-size="34.5" fill="#000" stroke="#fff" stroke-width="0.6">Norma</text>
<text transform="translate(880.59,1469.60) scale(1.1671,1)" font-size="34.5" fill="#000" stroke="#fff" stroke-width="0.6">&lt;B&gt;=</text>
<text transform="translate(978.26,1469.60) scale(1.1802,1)" font-size="34.5" fill="#000" stroke="#fff" stroke-width="0.6">−3.7±0.6<tspan font-style="italic">μ</tspan>G</text>
<text transform="translate(135.27,1836.30) scale(1.1803,1)" font-size="34.5" fill="#000" stroke="#fff" stroke-width="0.6">335&lt;l&lt;350°</text>
<text transform="translate(348.45,1836.30) scale(0.8333,1)" font-size="34.5" fill="#000" stroke="#fff" stroke-width="0.6">&amp;</text>
<text transform="translate(389.17,1836.30) scale(1.1724,1)" font-size="34.5" fill="#000" stroke="#fff" stroke-width="0.6">|b|&lt;8°</text>
<text transform="translate(543.16,1837.10) scale(1.2975,1)" font-size="34.5" fill="#000" stroke="#fff" stroke-width="0.6">Far 3−kpc</text>
<text transform="translate(904.59,1829.60) scale(1.1671,1)" font-size="34.5" fill="#000" stroke="#fff" stroke-width="0.6">&lt;B&gt;=</text>
<text transform="translate(1002.26,1829.60) scale(1.1833,1)" font-size="34.5" fill="#000" stroke="#fff" stroke-width="0.6">−3.1±1.1<tspan font-style="italic">μ</tspan>G</text>
<text transform="translate(98.60,100.04) rotate(-90) scale(1.1378,1)" font-size="34.5" fill="#000" stroke="#fff" stroke-width="0.6">1000</text>
<text transform="translate(98.60,165.73) rotate(-90) scale(1.1760,1)" font-size="34.5" fill="#000" stroke="#fff" stroke-width="0.6">500</text>
<text transform="translate(98.60,220.32) rotate(-90) scale(1.2077,1)" font-size="34.5" fill="#000" stroke="#fff" stroke-width="0.6">0</text>
<text transform="translate(98.60,327.82) rotate(-90) scale(1.1990,1)" font-size="34.5" fill="#000" stroke="#fff" stroke-width="0.6">−500</text>
<text transform="translate(98.60,456.88) rotate(-90) scale(1.1378,1)" font-size="34.5" fill="#000" stroke="#fff" stroke-width="0.6">1000</text>
<text transform="translate(98.60,542.31) rotate(-90) scale(1.1760,1)" font-size="34.5" fill="#000" stroke="#fff" stroke-width="0.6">500</text>
<text transform="translate(98.60,616.63) rotate(-90) scale(1.2077,1)" font-size="34.5" fill="#000" stroke="#fff" stroke-width="0.6">0</text>
<text transform="translate(98.60,743.87) rotate(-90) scale(1.1990,1)" font-size="34.5" fill="#000" stroke="#fff" stroke-width="0.6">−500</text>
<text transform="translate(98.60,877.59) rotate(-90) scale(1.2077,1)" font-size="34.5" fill="#000" stroke="#fff" stroke-width="0.6">0</text>
<text transform="translate(98.60,1082.05) rotate(-90) scale(1.1536,1)" font-size="34.5" fill="#000" stroke="#fff" stroke-width="0.6">−1000</text>
<text transform="translate(98.60,1190.73) rotate(-90) scale(1.1760,1)" font-size="34.5" fill="#000" stroke="#fff" stroke-width="0.6">500</text>
<text transform="translate(98.60,1270.32) rotate(-90) scale(1.2077,1)" font-size="34.5" fill="#000" stroke="#fff" stroke-width="0.6">0</text>
<text transform="translate(98.60,1402.82) rotate(-90) scale(1.1990,1)" font-size="34.5" fill="#000" stroke="#fff" stroke-width="0.6">−500</text>
<text transform="translate(98.60,1562.04) rotate(-90) scale(1.2077,1)" font-size="34.5" fill="#000" stroke="#fff" stroke-width="0.6">0</text>
<text transform="translate(98.60,1727.00) rotate(-90) scale(1.1536,1)" font-size="34.5" fill="#000" stroke="#fff" stroke-width="0.6">−1000</text>
<text transform="translate(98.60,1907.54) rotate(-90) scale(1.1378,1)" font-size="34.5" fill="#000" stroke="#fff" stroke-width="0.6">1000</text>
<text transform="translate(98.60,1990.32) rotate(-90) scale(1.2077,1)" font-size="34.5" fill="#000" stroke="#fff" stroke-width="0.6">0</text>
<text transform="translate(98.60,2143.64) rotate(-90) scale(1.1536,1)" font-size="34.5" fill="#000" stroke="#fff" stroke-width="0.6">−1000</text>
<text transform="translate(111.49,2200.30) scale(1.0973,1)" font-size="34.5" fill="#000" stroke="#fff" stroke-width="0.6">0</text>
<text transform="translate(261.40,2200.30) scale(1.2536,1)" font-size="34.5" fill="#000" stroke="#fff" stroke-width="0.6">5</text>
<text transform="translate(403.90,2200.30) scale(1.1263,1)" font-size="34.5" fill="#000" stroke="#fff" stroke-width="0.6">10</text>
<text transform="translate(555.48,2200.30) scale(1.1660,1)" font-size="34.5" fill="#000" stroke="#fff" stroke-width="0.6">15</text>
<text transform="translate(724.12,2200.30) scale(1.1456,1)" font-size="34.5" fill="#000" stroke="#fff" stroke-width="0.6">0</text>
<text transform="translate(800.28,2200.30) scale(1.1738,1)" font-size="34.5" fill="#000" stroke="#fff" stroke-width="0.6">200</text>
<text transform="translate(898.10,2200.30) scale(1.1534,1)" font-size="34.5" fill="#000" stroke="#fff" stroke-width="0.6">400</text>
<text transform="translate(994.69,2200.30) scale(1.1676,1)" font-size="34.5" fill="#000" stroke="#fff" stroke-width="0.6">600</text>
<text transform="translate(1091.39,2200.30) scale(1.1696,1)" font-size="34.5" fill="#000" stroke="#fff" stroke-width="0.6">800</text>
<text transform="translate(1220.78,2200.30) scale(1.2308,1)" font-size="34.5" fill="#000" stroke="#fff" stroke-width="0.6">−5</text>
<text transform="translate(1273.53,2200.30) scale(1.1387,1)" font-size="34.5" fill="#000" stroke="#fff" stroke-width="0.6">0</text>
<text transform="translate(1313.27,2200.30) scale(1.1739,1)" font-size="34.5" fill="#000" stroke="#fff" stroke-width="0.6">5</text>
<text transform="translate(268.93,2275.80) scale(1.0823,1)" font-size="39" fill="#000" stroke="#fff" stroke-width="0.6">Dist</text>
<text transform="translate(359.12,2275.80) scale(1.1843,1)" font-size="39" fill="#000" stroke="#fff" stroke-width="0.6">(kpc)</text>
<text transform="translate(631.85,2275.80) scale(1.2167,1)" font-size="39" fill="#000" stroke="#fff" stroke-width="0.6">l (°)</text>
<text transform="translate(859.94,2275.80) scale(0.8189,1)" font-size="39" fill="#000" stroke="#fff" stroke-width="0.6">DM</text>
<text transform="translate(932.29,2275.80) scale(1.1440,1)" font-size="39" fill="#000" stroke="#fff" stroke-width="0.6">(cm</text>
<text transform="translate(1003.63,2257.70) scale(1.3649,1)" font-size="26" fill="#000" stroke="#fff" stroke-width="0.6">−3</text>
<text transform="translate(1041.93,2275.80) scale(1.1496,1)" font-size="39" fill="#000" stroke="#fff" stroke-width="0.6">pc)</text>
<text transform="translate(1241.40,2275.80) scale(1.1860,1)" font-size="39" fill="#000" stroke="#fff" stroke-width="0.6">b (°)</text>
<text transform="translate(38.30,1210.93) rotate(-90) scale(0.8799,1)" font-size="39" fill="#000" stroke="#fff" stroke-width="0.6">RM</text>
<text transform="translate(38.30,1136.97) rotate(-90) scale(1.2944,1)" font-size="39" fill="#000" stroke="#fff" stroke-width="0.6">(rad</text>
<text transform="translate(38.30,1035.56) rotate(-90) scale(1.1082,1)" font-size="39" fill="#000" stroke="#fff" stroke-width="0.6">m</text>
<text transform="translate(20.40,996.77) rotate(-90) scale(1.4423,1)" font-size="26" fill="#000" stroke="#fff" stroke-width="0.6">−2</text>
<text transform="translate(38.30,956.14) rotate(-90) scale(0.9763,1)" font-size="39" fill="#000" stroke="#fff" stroke-width="0.6">)</text>
<text transform="translate(508.28,2142.90) scale(1.0837,1)" font-size="34.5" fill="#0000ff" stroke="#fff" stroke-width="0.6">PSRs</text>
<text transform="translate(631.07,2142.90) scale(0.9948,1)" font-size="34.5" fill="#ff0000" stroke="#fff" stroke-width="0.6">EGRS</text>
<text transform="translate(1121.56,2142.90) scale(1.1002,1)" font-size="34.5" fill="#0000ff" stroke="#fff" stroke-width="0.6">PSRs</text>
<text transform="translate(1250.97,2142.90) scale(0.9983,1)" font-size="34.5" fill="#ff0000" stroke="#fff" stroke-width="0.6">EGRS</text>
<defs>
<g id="st"><polygon points="0.00,-6.50 1.46,-2.01 6.18,-2.01 2.36,0.77 3.82,5.26 0.00,2.48 -3.82,5.26 -2.36,0.77 -6.18,-2.01 -1.46,-2.01" fill="none" stroke="#000" stroke-width="1.05" stroke-linejoin="round"/><path d="M0,-3.2V2.6" stroke="#000" stroke-width="1.0"/></g>
<g id="xb"><path d="M-5.2,-5.2L5.2,5.2M-5.2,5.2L5.2,-5.2" stroke="#000" stroke-width="1.15" fill="none"/></g>
<g id="xbb"><path d="M-5.2,-5.2L5.2,5.2M-5.2,5.2L5.2,-5.2M0,-2.8L0,2.8" stroke="#000" stroke-width="1.15" fill="none"/></g>
<g id="xl"><path d="M-3.8,-3.8L3.8,3.8M-3.8,3.8L3.8,-3.8" stroke="#000" stroke-width="1.1" fill="none"/></g>
<g id="xlb"><path d="M-3.8,-3.8L3.8,3.8M-3.8,3.8L3.8,-3.8M0,-3L0,3" stroke="#000" stroke-width="1.1" fill="none"/></g>
</defs>
<use href="#st" x="374.9" y="82.8"/>
<use href="#st" x="208.6" y="110.6"/>
<use href="#st" x="189.9" y="125.6"/>
<use href="#st" x="193.3" y="147.6"/>
<use href="#st" x="211.2" y="157.2"/>
<use href="#st" x="226.4" y="161.1"/>
<use href="#st" x="184.5" y="173.2"/>
<use href="#st" x="211.2" y="172.7"/>
<use href="#st" x="223.6" y="174.3"/>
<use href="#st" x="256.8" y="174.5"/>
<use href="#st" x="450.5" y="266.0"/>
<use href="#st" x="214.3" y="291.9"/>
<use href="#st" x="238.4" y="304.3"/>
<use href="#st" x="217.4" y="319.1"/>
<use href="#st" x="214.3" y="251.7"/>
<use href="#st" x="214.3" y="225.6"/>
<use href="#st" x="208.6" y="234.4"/>
<use href="#st" x="196.1" y="231.0"/>
<use href="#st" x="148.0" y="212.9"/>
<use href="#st" x="148.0" y="219.4"/>
<use href="#st" x="122.3" y="204.3"/>
<use href="#st" x="190.3" y="183.6"/>
<use href="#st" x="192.9" y="187.6"/>
<use href="#st" x="188.9" y="189.5"/>
<use href="#st" x="195.9" y="189.1"/>
<use href="#st" x="202.6" y="186.9"/>
<use href="#st" x="201.1" y="192.8"/>
<use href="#st" x="206.3" y="197.2"/>
<use href="#st" x="213.7" y="198.7"/>
<use href="#st" x="211.4" y="195.0"/>
<use href="#st" x="183.3" y="202.4"/>
<use href="#st" x="190.3" y="203.2"/>
<use href="#st" x="195.9" y="204.6"/>
<use href="#st" x="194.4" y="209.1"/>
<use href="#st" x="166.3" y="207.6"/>
<use href="#st" x="163.3" y="212.1"/>
<use href="#st" x="173.7" y="212.1"/>
<use href="#st" x="184.0" y="215.0"/>
<use href="#st" x="193.7" y="215.8"/>
<use href="#st" x="168.5" y="222.4"/>
<use href="#st" x="169.2" y="226.1"/>
<use href="#st" x="181.1" y="222.4"/>
<use href="#st" x="186.0" y="193.6"/>
<use href="#st" x="197.5" y="196.6"/>
<use href="#st" x="176.0" y="216.6"/>
<use href="#st" x="188.0" y="219.6"/>
<use href="#st" x="931.2" y="110.6"/>
<use href="#st" x="867.9" y="125.4"/>
<use href="#st" x="861.5" y="148.1"/>
<use href="#st" x="950.5" y="156.7"/>
<use href="#st" x="946.1" y="161.2"/>
<use href="#st" x="844.4" y="173.2"/>
<use href="#st" x="947.2" y="174.3"/>
<use href="#st" x="952.3" y="172.7"/>
<use href="#st" x="1024.5" y="174.3"/>
<use href="#st" x="865.0" y="182.3"/>
<use href="#st" x="882.3" y="187.8"/>
<use href="#st" x="893.9" y="187.8"/>
<use href="#st" x="849.5" y="192.3"/>
<use href="#st" x="846.1" y="193.8"/>
<use href="#st" x="855.0" y="197.6"/>
<use href="#st" x="869.0" y="196.7"/>
<use href="#st" x="936.5" y="196.1"/>
<use href="#st" x="920.1" y="199.4"/>
<use href="#st" x="841.9" y="202.7"/>
<use href="#st" x="832.8" y="204.9"/>
<use href="#st" x="895.7" y="204.9"/>
<use href="#st" x="889.5" y="210.5"/>
<use href="#st" x="748.4" y="203.8"/>
<use href="#st" x="775.1" y="206.7"/>
<use href="#st" x="769.5" y="212.7"/>
<use href="#st" x="781.7" y="211.6"/>
<use href="#st" x="794.4" y="211.6"/>
<use href="#st" x="772.9" y="219.4"/>
<use href="#st" x="787.3" y="221.6"/>
<use href="#st" x="784.6" y="226.0"/>
<use href="#st" x="790.6" y="223.8"/>
<use href="#st" x="796.6" y="234.3"/>
<use href="#st" x="810.6" y="216.0"/>
<use href="#st" x="810.6" y="223.8"/>
<use href="#st" x="825.7" y="216.0"/>
<use href="#st" x="869.9" y="217.1"/>
<use href="#st" x="855.0" y="230.5"/>
<use href="#st" x="917.9" y="225.4"/>
<use href="#st" x="972.3" y="251.1"/>
<use href="#st" x="925.0" y="291.5"/>
<use href="#st" x="973.4" y="304.2"/>
<use href="#st" x="949.4" y="318.9"/>
<use href="#st" x="1077.4" y="82.8"/>
<use href="#st" x="1194.3" y="265.8"/>
<use href="#st" x="345.1" y="446.7"/>
<use href="#st" x="335.5" y="494.6"/>
<use href="#st" x="241.7" y="510.7"/>
<use href="#st" x="369.2" y="533.2"/>
<use href="#st" x="341.7" y="544.6"/>
<use href="#st" x="417.1" y="543.1"/>
<use href="#st" x="389.9" y="558.1"/>
<use href="#st" x="181.1" y="557.9"/>
<use href="#st" x="205.5" y="563.8"/>
<use href="#st" x="181.1" y="577.3"/>
<use href="#st" x="174.9" y="581.2"/>
<use href="#st" x="183.7" y="593.6"/>
<use href="#st" x="190.4" y="597.0"/>
<use href="#st" x="169.2" y="604.0"/>
<use href="#st" x="169.2" y="610.4"/>
<use href="#st" x="165.6" y="616.9"/>
<use href="#st" x="169.2" y="623.9"/>
<use href="#st" x="199.2" y="607.3"/>
<use href="#st" x="211.2" y="602.7"/>
<use href="#st" x="211.2" y="625.5"/>
<use href="#st" x="241.7" y="607.9"/>
<use href="#st" x="417.1" y="591.8"/>
<use href="#st" x="363.2" y="629.6"/>
<use href="#st" x="1009.4" y="446.1"/>
<use href="#st" x="986.1" y="494.5"/>
<use href="#st" x="891.7" y="510.5"/>
<use href="#st" x="879.9" y="533.4"/>
<use href="#st" x="869.0" y="544.5"/>
<use href="#st" x="935.4" y="543.2"/>
<use href="#st" x="820.2" y="558.3"/>
<use href="#st" x="852.1" y="563.8"/>
<use href="#st" x="902.3" y="558.3"/>
<use href="#st" x="804.6" y="580.5"/>
<use href="#st" x="877.9" y="577.1"/>
<use href="#st" x="819.1" y="593.8"/>
<use href="#st" x="819.5" y="602.7"/>
<use href="#st" x="844.6" y="607.1"/>
<use href="#st" x="954.3" y="591.6"/>
<use href="#st" x="782.4" y="603.8"/>
<use href="#st" x="787.3" y="608.2"/>
<use href="#st" x="780.6" y="609.4"/>
<use href="#st" x="779.5" y="617.1"/>
<use href="#st" x="788.4" y="623.8"/>
<use href="#st" x="790.6" y="626.0"/>
<use href="#st" x="895.7" y="629.8"/>
<use href="#st" x="272.0" y="812.9"/>
<use href="#st" x="435.2" y="818.9"/>
<use href="#st" x="444.8" y="845.6"/>
<use href="#st" x="244.8" y="844.8"/>
<use href="#st" x="287.3" y="843.0"/>
<use href="#st" x="308.0" y="853.3"/>
<use href="#st" x="341.2" y="851.3"/>
<use href="#st" x="174.9" y="857.8"/>
<use href="#st" x="193.0" y="859.0"/>
<use href="#st" x="189.7" y="865.0"/>
<use href="#st" x="211.2" y="860.3"/>
<use href="#st" x="223.3" y="863.4"/>
<use href="#st" x="272.0" y="862.9"/>
<use href="#st" x="420.2" y="864.7"/>
<use href="#st" x="150.8" y="870.7"/>
<use href="#st" x="159.9" y="870.7"/>
<use href="#st" x="163.7" y="869.4"/>
<use href="#st" x="167.1" y="871.5"/>
<use href="#st" x="205.2" y="870.7"/>
<use href="#st" x="214.3" y="875.9"/>
<use href="#st" x="226.7" y="877.2"/>
<use href="#st" x="253.1" y="868.1"/>
<use href="#st" x="263.0" y="874.6"/>
<use href="#st" x="287.3" y="877.7"/>
<use href="#st" x="278.5" y="883.7"/>
<use href="#st" x="289.9" y="888.1"/>
<use href="#st" x="299.2" y="890.1"/>
<use href="#st" x="323.6" y="875.1"/>
<use href="#st" x="335.5" y="889.4"/>
<use href="#st" x="378.0" y="873.8"/>
<use href="#st" x="241.7" y="917.9"/>
<use href="#st" x="283.7" y="930.3"/>
<use href="#st" x="378.0" y="931.6"/>
<use href="#st" x="338.6" y="941.9"/>
<use href="#st" x="348.0" y="945.3"/>
<use href="#st" x="468.2" y="939.4"/>
<use href="#st" x="211.2" y="962.7"/>
<use href="#st" x="308.0" y="957.5"/>
<use href="#st" x="314.0" y="964.0"/>
<use href="#st" x="323.8" y="969.9"/>
<use href="#st" x="441.5" y="966.6"/>
<use href="#st" x="444.8" y="971.7"/>
<use href="#st" x="289.9" y="983.9"/>
<use href="#st" x="338.6" y="980.8"/>
<use href="#st" x="378.0" y="982.9"/>
<use href="#st" x="529.9" y="729.0"/>
<use href="#st" x="589.9" y="803.2"/>
<use href="#st" x="481.1" y="831.0"/>
<use href="#st" x="490.4" y="854.5"/>
<use href="#st" x="478.2" y="913.4"/>
<use href="#st" x="481.1" y="936.0"/>
<use href="#st" x="493.3" y="942.2"/>
<use href="#st" x="490.6" y="947.1"/>
<use href="#st" x="505.5" y="950.9"/>
<use href="#st" x="514.4" y="948.2"/>
<use href="#st" x="499.3" y="1018.2"/>
<use href="#st" x="589.9" y="1069.7"/>
<use href="#st" x="945.6" y="802.8"/>
<use href="#st" x="874.4" y="812.8"/>
<use href="#st" x="860.6" y="818.8"/>
<use href="#st" x="977.6" y="831.2"/>
<use href="#st" x="799.1" y="844.5"/>
<use href="#st" x="845.0" y="842.8"/>
<use href="#st" x="915.4" y="846.1"/>
<use href="#st" x="818.4" y="851.0"/>
<use href="#st" x="877.2" y="853.4"/>
<use href="#st" x="876.1" y="862.3"/>
<use href="#st" x="1032.7" y="855.0"/>
<use href="#st" x="781.3" y="857.6"/>
<use href="#st" x="792.2" y="858.3"/>
<use href="#st" x="796.2" y="865.0"/>
<use href="#st" x="805.1" y="864.5"/>
<use href="#st" x="837.9" y="864.5"/>
<use href="#st" x="755.1" y="869.9"/>
<use href="#st" x="765.1" y="871.0"/>
<use href="#st" x="770.6" y="869.4"/>
<use href="#st" x="779.5" y="869.9"/>
<use href="#st" x="798.4" y="876.1"/>
<use href="#st" x="797.3" y="872.7"/>
<use href="#st" x="835.7" y="875.6"/>
<use href="#st" x="869.0" y="877.9"/>
<use href="#st" x="885.0" y="882.7"/>
<use href="#st" x="859.5" y="890.5"/>
<use href="#st" x="907.9" y="887.8"/>
<use href="#st" x="983.4" y="889.0"/>
<use href="#st" x="928.8" y="913.4"/>
<use href="#st" x="888.3" y="917.6"/>
<use href="#st" x="872.1" y="930.0"/>
<use href="#st" x="883.5" y="931.6"/>
<use href="#st" x="906.1" y="941.6"/>
<use href="#st" x="961.6" y="938.9"/>
<use href="#st" x="979.4" y="936.7"/>
<use href="#st" x="948.3" y="946.7"/>
<use href="#st" x="999.4" y="944.9"/>
<use href="#st" x="876.1" y="957.1"/>
<use href="#st" x="873.5" y="962.7"/>
<use href="#st" x="936.1" y="963.4"/>
<use href="#st" x="891.2" y="970.5"/>
<use href="#st" x="915.4" y="970.9"/>
<use href="#st" x="911.0" y="981.1"/>
<use href="#st" x="881.7" y="983.8"/>
<use href="#st" x="1000.5" y="982.7"/>
<use href="#st" x="1023.8" y="966.0"/>
<use href="#st" x="794.0" y="861.6"/>
<use href="#st" x="799.0" y="868.6"/>
<use href="#st" x="796.0" y="870.6"/>
<use href="#st" x="800.0" y="874.6"/>
<use href="#st" x="1194.3" y="728.8"/>
<use href="#st" x="1062.2" y="873.6"/>
<use href="#st" x="1044.6" y="942.3"/>
<use href="#st" x="1062.9" y="950.1"/>
<use href="#st" x="1126.0" y="947.7"/>
<use href="#st" x="1082.1" y="1018.6"/>
<use href="#st" x="1135.4" y="1069.7"/>
<use href="#st" x="326.4" y="1158.7"/>
<use href="#st" x="332.7" y="1188.5"/>
<use href="#st" x="296.4" y="1208.7"/>
<use href="#st" x="253.6" y="1217.8"/>
<use href="#st" x="220.5" y="1223.4"/>
<use href="#st" x="441.5" y="1221.6"/>
<use href="#st" x="208.3" y="1235.9"/>
<use href="#st" x="208.3" y="1251.4"/>
<use href="#st" x="220.7" y="1251.4"/>
<use href="#st" x="223.3" y="1253.2"/>
<use href="#st" x="235.5" y="1251.4"/>
<use href="#st" x="256.2" y="1250.7"/>
<use href="#st" x="275.1" y="1246.2"/>
<use href="#st" x="281.1" y="1254.0"/>
<use href="#st" x="304.9" y="1258.4"/>
<use href="#st" x="374.9" y="1261.3"/>
<use href="#st" x="148.2" y="1257.9"/>
<use href="#st" x="178.0" y="1259.7"/>
<use href="#st" x="214.3" y="1264.4"/>
<use href="#st" x="226.7" y="1263.9"/>
<use href="#st" x="235.8" y="1265.2"/>
<use href="#st" x="193.5" y="1270.9"/>
<use href="#st" x="205.7" y="1270.9"/>
<use href="#st" x="290.2" y="1272.9"/>
<use href="#st" x="235.8" y="1293.7"/>
<use href="#st" x="311.4" y="1343.4"/>
<use href="#st" x="344.6" y="1355.6"/>
<use href="#st" x="1017.1" y="1187.9"/>
<use href="#st" x="961.6" y="1208.3"/>
<use href="#st" x="856.1" y="1217.2"/>
<use href="#st" x="834.4" y="1221.6"/>
<use href="#st" x="808.4" y="1223.2"/>
<use href="#st" x="785.7" y="1235.6"/>
<use href="#st" x="858.4" y="1246.1"/>
<use href="#st" x="861.0" y="1252.7"/>
<use href="#st" x="776.2" y="1251.6"/>
<use href="#st" x="792.2" y="1252.1"/>
<use href="#st" x="801.7" y="1252.1"/>
<use href="#st" x="808.4" y="1253.4"/>
<use href="#st" x="909.9" y="1253.4"/>
<use href="#st" x="903.2" y="1258.7"/>
<use href="#st" x="752.2" y="1257.8"/>
<use href="#st" x="774.0" y="1260.1"/>
<use href="#st" x="795.7" y="1264.5"/>
<use href="#st" x="819.5" y="1263.8"/>
<use href="#st" x="831.0" y="1265.4"/>
<use href="#st" x="775.1" y="1271.2"/>
<use href="#st" x="788.0" y="1271.2"/>
<use href="#st" x="842.1" y="1272.7"/>
<use href="#st" x="820.2" y="1293.4"/>
<use href="#st" x="882.1" y="1343.3"/>
<use href="#st" x="1039.2" y="1158.6"/>
<use href="#st" x="1076.9" y="1261.4"/>
<use href="#st" x="1137.9" y="1355.9"/>
<use href="#st" x="302.4" y="1501.7"/>
<use href="#st" x="329.3" y="1537.2"/>
<use href="#st" x="232.5" y="1537.9"/>
<use href="#st" x="220.5" y="1541.0"/>
<use href="#st" x="362.6" y="1543.2"/>
<use href="#st" x="218.3" y="1547.2"/>
<use href="#st" x="213.8" y="1551.2"/>
<use href="#st" x="259.8" y="1548.3"/>
<use href="#st" x="272.0" y="1551.2"/>
<use href="#st" x="295.3" y="1546.8"/>
<use href="#st" x="293.1" y="1549.4"/>
<use href="#st" x="287.1" y="1555.4"/>
<use href="#st" x="323.1" y="1548.3"/>
<use href="#st" x="326.9" y="1553.9"/>
<use href="#st" x="145.4" y="1551.7"/>
<use href="#st" x="148.8" y="1556.1"/>
<use href="#st" x="153.2" y="1550.6"/>
<use href="#st" x="157.6" y="1552.8"/>
<use href="#st" x="161.0" y="1553.9"/>
<use href="#st" x="145.0" y="1557.2"/>
<use href="#st" x="187.6" y="1551.7"/>
<use href="#st" x="187.2" y="1556.1"/>
<use href="#st" x="202.1" y="1560.6"/>
<use href="#st" x="209.4" y="1561.7"/>
<use href="#st" x="220.9" y="1557.9"/>
<use href="#st" x="232.5" y="1562.3"/>
<use href="#st" x="248.0" y="1559.4"/>
<use href="#st" x="225.4" y="1569.4"/>
<use href="#st" x="222.7" y="1572.1"/>
<use href="#st" x="227.2" y="1573.4"/>
<use href="#st" x="244.9" y="1570.5"/>
<use href="#st" x="227.2" y="1581.0"/>
<use href="#st" x="272.0" y="1570.5"/>
<use href="#st" x="275.3" y="1583.9"/>
<use href="#st" x="338.6" y="1570.5"/>
<use href="#st" x="326.9" y="1580.5"/>
<use href="#st" x="280.9" y="1593.9"/>
<use href="#st" x="274.9" y="1608.3"/>
<use href="#st" x="290.2" y="1607.2"/>
<use href="#st" x="338.6" y="1602.3"/>
<use href="#st" x="290.2" y="1646.0"/>
<use href="#st" x="296.0" y="1678.9"/>
<use href="#st" x="329.7" y="1696.7"/>
<use href="#st" x="284.2" y="1712.0"/>
<use href="#st" x="287.1" y="1736.4"/>
<use href="#st" x="241.6" y="1783.4"/>
<use href="#st" x="150.5" y="1554.1"/>
<use href="#st" x="155.0" y="1556.6"/>
<use href="#st" x="224.0" y="1575.6"/>
<use href="#st" x="927.2" y="1501.7"/>
<use href="#st" x="782.2" y="1540.6"/>
<use href="#st" x="836.2" y="1537.9"/>
<use href="#st" x="860.1" y="1537.2"/>
<use href="#st" x="862.1" y="1548.3"/>
<use href="#st" x="887.2" y="1547.2"/>
<use href="#st" x="901.7" y="1548.3"/>
<use href="#st" x="816.6" y="1542.8"/>
<use href="#st" x="802.4" y="1547.2"/>
<use href="#st" x="794.4" y="1550.6"/>
<use href="#st" x="812.8" y="1548.3"/>
<use href="#st" x="816.2" y="1550.6"/>
<use href="#st" x="748.4" y="1548.3"/>
<use href="#st" x="746.2" y="1558.3"/>
<use href="#st" x="751.8" y="1552.8"/>
<use href="#st" x="758.4" y="1550.6"/>
<use href="#st" x="761.8" y="1553.9"/>
<use href="#st" x="767.3" y="1551.7"/>
<use href="#st" x="767.3" y="1557.2"/>
<use href="#st" x="778.4" y="1560.5"/>
<use href="#st" x="796.2" y="1561.7"/>
<use href="#st" x="816.2" y="1557.2"/>
<use href="#st" x="821.7" y="1558.3"/>
<use href="#st" x="827.3" y="1561.7"/>
<use href="#st" x="795.1" y="1569.4"/>
<use href="#st" x="805.1" y="1570.5"/>
<use href="#st" x="814.0" y="1569.4"/>
<use href="#st" x="819.5" y="1568.3"/>
<use href="#st" x="827.3" y="1571.6"/>
<use href="#st" x="831.7" y="1571.6"/>
<use href="#st" x="837.9" y="1570.5"/>
<use href="#st" x="802.4" y="1580.5"/>
<use href="#st" x="885.7" y="1581.6"/>
<use href="#st" x="915.0" y="1570.5"/>
<use href="#st" x="945.4" y="1570.5"/>
<use href="#st" x="941.6" y="1583.9"/>
<use href="#st" x="918.3" y="1593.9"/>
<use href="#st" x="897.9" y="1607.2"/>
<use href="#st" x="1003.8" y="1602.7"/>
<use href="#st" x="1016.5" y="1608.3"/>
<use href="#st" x="935.6" y="1646.0"/>
<use href="#st" x="973.2" y="1678.9"/>
<use href="#st" x="1024.9" y="1696.7"/>
<use href="#st" x="1194.3" y="1553.3"/>
<use href="#st" x="1100.4" y="1711.2"/>
<use href="#st" x="1131.4" y="1736.3"/>
<use href="#st" x="1136.5" y="1783.3"/>
<use href="#st" x="754.0" y="1549.6"/>
<use href="#st" x="756.0" y="1554.6"/>
<use href="#st" x="299.3" y="1877.2"/>
<use href="#st" x="253.8" y="1895.0"/>
<use href="#st" x="278.0" y="1916.6"/>
<use href="#st" x="256.5" y="1942.8"/>
<use href="#st" x="232.5" y="1952.3"/>
<use href="#st" x="281.3" y="1952.7"/>
<use href="#st" x="329.8" y="1960.5"/>
<use href="#st" x="223.6" y="1967.6"/>
<use href="#st" x="238.7" y="1965.6"/>
<use href="#st" x="266.5" y="1965.6"/>
<use href="#st" x="268.7" y="1967.6"/>
<use href="#st" x="414.1" y="1964.3"/>
<use href="#st" x="199.2" y="1980.5"/>
<use href="#st" x="211.4" y="1975.6"/>
<use href="#st" x="220.9" y="1979.4"/>
<use href="#st" x="222.7" y="1982.7"/>
<use href="#st" x="232.5" y="1983.2"/>
<use href="#st" x="244.3" y="1986.1"/>
<use href="#st" x="250.9" y="1983.8"/>
<use href="#st" x="253.6" y="1978.3"/>
<use href="#st" x="263.1" y="1979.4"/>
<use href="#st" x="272.0" y="1982.1"/>
<use href="#st" x="280.4" y="1987.2"/>
<use href="#st" x="284.2" y="1988.3"/>
<use href="#st" x="290.2" y="1981.0"/>
<use href="#st" x="308.7" y="1984.9"/>
<use href="#st" x="308.7" y="1987.2"/>
<use href="#st" x="323.1" y="1986.7"/>
<use href="#st" x="341.3" y="1982.7"/>
<use href="#st" x="417.5" y="1982.1"/>
<use href="#st" x="223.6" y="1991.6"/>
<use href="#st" x="259.8" y="1993.8"/>
<use href="#st" x="238.7" y="1998.7"/>
<use href="#st" x="242.0" y="2000.5"/>
<use href="#st" x="278.2" y="1998.9"/>
<use href="#st" x="302.4" y="2006.0"/>
<use href="#st" x="338.6" y="2002.7"/>
<use href="#st" x="414.1" y="2004.9"/>
<use href="#st" x="269.3" y="2019.4"/>
<use href="#st" x="284.2" y="2017.8"/>
<use href="#st" x="259.8" y="2026.7"/>
<use href="#st" x="268.7" y="2026.7"/>
<use href="#st" x="287.1" y="2028.9"/>
<use href="#st" x="238.7" y="2034.9"/>
<use href="#st" x="320.4" y="2034.9"/>
<use href="#st" x="326.4" y="2030.5"/>
<use href="#st" x="269.1" y="2044.5"/>
<use href="#st" x="256.5" y="2050.5"/>
<use href="#st" x="253.8" y="2057.1"/>
<use href="#st" x="272.0" y="2055.3"/>
<use href="#st" x="263.1" y="2068.7"/>
<use href="#st" x="338.6" y="2071.6"/>
<use href="#st" x="381.3" y="1984.9"/>
<use href="#st" x="387.5" y="1990.5"/>
<use href="#st" x="399.0" y="1995.4"/>
<use href="#st" x="253.0" y="1978.8"/>
<use href="#st" x="254.4" y="1977.8"/>
<use href="#st" x="239.4" y="1999.2"/>
<use href="#st" x="427.2" y="1945.0"/>
<use href="#st" x="484.3" y="1963.1"/>
<use href="#st" x="465.9" y="2002.4"/>
<use href="#st" x="511.2" y="1996.6"/>
<use href="#st" x="571.6" y="1962.6"/>
<use href="#st" x="590.0" y="1967.7"/>
<use href="#st" x="590.0" y="1976.5"/>
<use href="#st" x="590.0" y="1980.3"/>
<use href="#st" x="590.0" y="2005.9"/>
<use href="#st" x="508.2" y="2033.6"/>
<use href="#st" x="510.7" y="2048.7"/>
<use href="#st" x="527.1" y="2041.9"/>
<use href="#st" x="550.5" y="2091.5"/>
<use href="#st" x="927.2" y="1894.6"/>
<use href="#st" x="940.1" y="1942.8"/>
<use href="#st" x="1007.2" y="1945.0"/>
<use href="#st" x="886.1" y="1952.3"/>
<use href="#st" x="910.5" y="1952.7"/>
<use href="#st" x="846.1" y="1961.2"/>
<use href="#st" x="849.5" y="1967.2"/>
<use href="#st" x="855.0" y="1968.3"/>
<use href="#st" x="860.6" y="1965.6"/>
<use href="#st" x="877.2" y="1967.8"/>
<use href="#st" x="889.0" y="1965.6"/>
<use href="#st" x="945.4" y="1962.3"/>
<use href="#st" x="963.8" y="1962.3"/>
<use href="#st" x="849.5" y="1976.1"/>
<use href="#st" x="770.6" y="1980.1"/>
<use href="#st" x="799.1" y="1975.0"/>
<use href="#st" x="800.6" y="1981.6"/>
<use href="#st" x="796.2" y="1987.2"/>
<use href="#st" x="805.1" y="1982.7"/>
<use href="#st" x="809.5" y="1984.9"/>
<use href="#st" x="814.0" y="1981.6"/>
<use href="#st" x="820.6" y="1984.9"/>
<use href="#st" x="827.3" y="1979.4"/>
<use href="#st" x="859.5" y="1983.4"/>
<use href="#st" x="831.7" y="1989.4"/>
<use href="#st" x="836.2" y="1991.6"/>
<use href="#st" x="842.8" y="1993.8"/>
<use href="#st" x="848.4" y="1996.1"/>
<use href="#st" x="828.4" y="2002.7"/>
<use href="#st" x="828.4" y="2006.0"/>
<use href="#st" x="916.8" y="1983.8"/>
<use href="#st" x="936.1" y="1978.3"/>
<use href="#st" x="940.5" y="1975.0"/>
<use href="#st" x="951.6" y="1979.4"/>
<use href="#st" x="963.8" y="1982.7"/>
<use href="#st" x="971.6" y="1987.2"/>
<use href="#st" x="989.4" y="1980.1"/>
<use href="#st" x="908.3" y="2000.5"/>
<use href="#st" x="912.8" y="1998.3"/>
<use href="#st" x="921.7" y="2006.0"/>
<use href="#st" x="925.0" y="2004.9"/>
<use href="#st" x="927.2" y="1996.1"/>
<use href="#st" x="888.3" y="2006.0"/>
<use href="#st" x="962.7" y="2002.7"/>
<use href="#st" x="967.2" y="1999.4"/>
<use href="#st" x="971.6" y="2018.3"/>
<use href="#st" x="976.1" y="2019.4"/>
<use href="#st" x="1021.6" y="2026.0"/>
<use href="#st" x="794.0" y="2028.9"/>
<use href="#st" x="857.2" y="2034.9"/>
<use href="#st" x="864.6" y="2033.8"/>
<use href="#st" x="883.2" y="2026.7"/>
<use href="#st" x="878.3" y="2041.6"/>
<use href="#st" x="881.0" y="2049.3"/>
<use href="#st" x="895.0" y="2044.9"/>
<use href="#st" x="959.8" y="2034.5"/>
<use href="#st" x="966.5" y="2050.5"/>
<use href="#st" x="924.5" y="2057.1"/>
<use href="#st" x="1006.7" y="2055.6"/>
<use href="#st" x="977.8" y="2068.2"/>
<use href="#st" x="883.2" y="2071.6"/>
<use href="#st" x="953.4" y="2092.2"/>
<use href="#st" x="798.0" y="1983.6"/>
<use href="#st" x="801.0" y="1980.6"/>
<use href="#st" x="804.0" y="1985.6"/>
<use href="#st" x="806.0" y="1982.6"/>
<use href="#st" x="800.0" y="1987.6"/>
<use href="#st" x="833.0" y="1990.6"/>
<use href="#st" x="836.0" y="1988.6"/>
<use href="#st" x="839.0" y="1991.6"/>
<use href="#st" x="845.0" y="1963.6"/>
<use href="#st" x="847.0" y="1966.6"/>
<use href="#st" x="850.0" y="1964.6"/>
<use href="#st" x="910.0" y="1998.6"/>
<use href="#st" x="914.0" y="1999.6"/>
<use href="#st" x="1194.3" y="1877.4"/>
<use href="#st" x="1130.2" y="1916.2"/>
<use href="#st" x="1143.8" y="1916.2"/>
<use href="#st" x="1039.2" y="1979.0"/>
<use href="#st" x="1065.2" y="1987.7"/>
<use href="#st" x="1194.3" y="2030.7"/>
<polyline points="180.6,194.5 240.9,203.5" fill="none" stroke="#0000ff" stroke-width="1.55"/>
<polyline points="240.9,203.5 605.0,182.2" fill="none" stroke="#ff0000" stroke-width="1.55"/>
<polyline points="855.0,179.5 1000.5,223.9" fill="none" stroke="#0000ff" stroke-width="1.55"/>
<polyline points="1000.5,223.9 1218.7,182.2" fill="none" stroke="#ff0000" stroke-width="1.55"/>
<polyline points="180.6,593.8 422.8,541.2" fill="none" stroke="#0000ff" stroke-width="1.55"/>
<polyline points="422.8,541.2 605.0,544.2" fill="none" stroke="#ff0000" stroke-width="1.55"/>
<polyline points="781.7,615.9 1024.9,471.1" fill="none" stroke="#0000ff" stroke-width="1.55"/>
<polyline points="1024.9,471.1 1218.7,543.6" fill="none" stroke="#ff0000" stroke-width="1.55"/>
<polyline points="241.7,872.7 514.4,947.6" fill="none" stroke="#0000ff" stroke-width="1.55"/>
<polyline points="514.4,947.6 605.0,948.1" fill="none" stroke="#ff0000" stroke-width="1.55"/>
<polyline points="830.6,873.3 1122.0,996.9" fill="none" stroke="#0000ff" stroke-width="1.55"/>
<polyline points="1122.0,996.9 1218.7,948.1" fill="none" stroke="#ff0000" stroke-width="1.55"/>
<polyline points="211.2,1258.1 453.3,1219.2" fill="none" stroke="#0000ff" stroke-width="1.55"/>
<polyline points="453.3,1219.2 605.0,1280.3" fill="none" stroke="#ff0000" stroke-width="1.55"/>
<polyline points="855.0,1253.2 1073.4,1161.5" fill="none" stroke="#0000ff" stroke-width="1.55"/>
<polyline points="1073.4,1161.5 1218.7,1280.7" fill="none" stroke="#ff0000" stroke-width="1.55"/>
<polyline points="240.9,1566.2 316.9,1605.5" fill="none" stroke="#0000ff" stroke-width="1.55"/>
<polyline points="316.9,1605.5 605.2,1583.0" fill="none" stroke="#ff0000" stroke-width="1.55"/>
<polyline points="879.5,1543.3 1122.0,1727.5" fill="none" stroke="#0000ff" stroke-width="1.55"/>
<polyline points="1122.0,1727.5 1218.7,1583.2" fill="none" stroke="#ff0000" stroke-width="1.55"/>
<polyline points="362.6,1978.8 528.8,2036.8" fill="none" stroke="#0000ff" stroke-width="1.55"/>
<polyline points="528.8,2036.8 605.1,1982.7" fill="none" stroke="#ff0000" stroke-width="1.55"/>
<polyline points="928.3,1972.6 1073.4,2057.0" fill="none" stroke="#0000ff" stroke-width="1.55"/>
<polyline points="1073.4,2057.0 1218.7,1982.4" fill="none" stroke="#ff0000" stroke-width="1.55"/>
<rect x="596.1" y="173.2" width="18.5" height="18.5" fill="none" stroke="#ff0000" stroke-width="0.9"/>
<line x1="605.0" y1="132.8" x2="605.0" y2="231.4" stroke="#ff0000" stroke-width="1.6"/>
<rect x="1206.3" y="169.6" width="24.8" height="24.8" fill="none" stroke="#ff0000" stroke-width="0.9"/>
<line x1="1218.3" y1="133.4" x2="1218.3" y2="231.2" stroke="#ff0000" stroke-width="1.6"/>
<rect x="596.1" y="534.5" width="18.5" height="18.5" fill="none" stroke="#ff0000" stroke-width="0.9"/>
<line x1="605.0" y1="483.3" x2="605.0" y2="604.3" stroke="#ff0000" stroke-width="1.6"/>
<rect x="1209.6" y="534.7" width="18.0" height="18.0" fill="none" stroke="#ff0000" stroke-width="0.9"/>
<line x1="1218.2" y1="483.3" x2="1218.2" y2="604.1" stroke="#ff0000" stroke-width="1.6"/>
<rect x="596.6" y="939.3" width="18.0" height="18.0" fill="none" stroke="#ff0000" stroke-width="0.9"/>
<line x1="605.2" y1="882.8" x2="605.2" y2="1013.6" stroke="#ff0000" stroke-width="1.6"/>
<rect x="1209.6" y="939.2" width="18.0" height="18.0" fill="none" stroke="#ff0000" stroke-width="0.9"/>
<line x1="1218.2" y1="883.1" x2="1218.2" y2="1013.3" stroke="#ff0000" stroke-width="1.6"/>
<rect x="596.6" y="1271.5" width="18.0" height="18.0" fill="none" stroke="#ff0000" stroke-width="0.9"/>
<line x1="605.2" y1="1241.0" x2="605.2" y2="1321.0" stroke="#ff0000" stroke-width="1.6"/>
<rect x="1209.6" y="1271.7" width="18.0" height="18.0" fill="none" stroke="#ff0000" stroke-width="0.9"/>
<line x1="1218.2" y1="1240.8" x2="1218.2" y2="1320.6" stroke="#ff0000" stroke-width="1.6"/>
<rect x="596.6" y="1573.8" width="18.0" height="18.0" fill="none" stroke="#ff0000" stroke-width="0.9"/>
<line x1="605.2" y1="1538.0" x2="605.2" y2="1625.0" stroke="#ff0000" stroke-width="1.6"/>
<rect x="1209.6" y="1573.7" width="18.0" height="18.0" fill="none" stroke="#ff0000" stroke-width="0.9"/>
<line x1="1218.2" y1="1538.2" x2="1218.2" y2="1627.3" stroke="#ff0000" stroke-width="1.6"/>
<rect x="596.4" y="1973.2" width="18.0" height="18.0" fill="none" stroke="#ff0000" stroke-width="0.9"/>
<line x1="605.0" y1="1962.5" x2="605.0" y2="1998.5" stroke="#ff0000" stroke-width="1.6"/>
<rect x="1209.6" y="1973.3" width="18.0" height="18.0" fill="none" stroke="#ff0000" stroke-width="0.9"/>
<line x1="1218.2" y1="1962.0" x2="1218.2" y2="2001.4" stroke="#ff0000" stroke-width="1.6"/>
<line x1="605.00" y1="0.60" x2="605.00" y2="360.60" stroke="#000" stroke-width="1.35" stroke-dasharray="3.6 13.18" stroke-dashoffset="0.4"/>
<line x1="1218.40" y1="0.60" x2="1218.40" y2="360.60" stroke="#000" stroke-width="1.35" stroke-dasharray="3.6 13.18" stroke-dashoffset="0.4"/>
<line x1="605.00" y1="360.60" x2="605.00" y2="720.60" stroke="#000" stroke-width="1.35" stroke-dasharray="3.6 13.18" stroke-dashoffset="0.4"/>
<line x1="1218.40" y1="360.60" x2="1218.40" y2="720.60" stroke="#000" stroke-width="1.35" stroke-dasharray="3.6 13.18" stroke-dashoffset="0.4"/>
<line x1="605.00" y1="720.60" x2="605.00" y2="1080.60" stroke="#000" stroke-width="1.35" stroke-dasharray="3.6 13.18" stroke-dashoffset="0.4"/>
<line x1="1218.40" y1="720.60" x2="1218.40" y2="1080.60" stroke="#000" stroke-width="1.35" stroke-dasharray="3.6 13.18" stroke-dashoffset="0.4"/>
<line x1="605.00" y1="1080.60" x2="605.00" y2="1440.60" stroke="#000" stroke-width="1.35" stroke-dasharray="3.6 13.18" stroke-dashoffset="0.4"/>
<line x1="1218.40" y1="1080.60" x2="1218.40" y2="1440.60" stroke="#000" stroke-width="1.35" stroke-dasharray="3.6 13.18" stroke-dashoffset="0.4"/>
<line x1="605.00" y1="1440.60" x2="605.00" y2="1800.60" stroke="#000" stroke-width="1.35" stroke-dasharray="3.6 13.18" stroke-dashoffset="0.4"/>
<line x1="1218.40" y1="1440.60" x2="1218.40" y2="1800.60" stroke="#000" stroke-width="1.35" stroke-dasharray="3.6 13.18" stroke-dashoffset="0.4"/>
<line x1="605.00" y1="1800.60" x2="605.00" y2="2160.60" stroke="#000" stroke-width="1.35" stroke-dasharray="3.6 13.18" stroke-dashoffset="0.4"/>
<line x1="1218.40" y1="1800.60" x2="1218.40" y2="2160.60" stroke="#000" stroke-width="1.35" stroke-dasharray="3.6 13.18" stroke-dashoffset="0.4"/>
<use href="#xlb" x="605.4" y="81.7"/>
<use href="#xlb" x="648.3" y="89.3"/>
<use href="#xlb" x="699.8" y="147.7"/>
<use href="#xlb" x="609.9" y="172.1"/>
<use href="#xl" x="659.9" y="212.8"/>
<use href="#xlb" x="728.7" y="192.8"/>
<use href="#xlb" x="731.0" y="193.5"/>
<use href="#xlb" x="633.2" y="464.4"/>
<use href="#xlb" x="652.5" y="498.8"/>
<use href="#xlb" x="609.9" y="517.7"/>
<use href="#xlb" x="620.3" y="538.1"/>
<use href="#xlb" x="688.3" y="528.8"/>
<use href="#xlb" x="690.5" y="539.2"/>
<use href="#xlb" x="697.6" y="540.6"/>
<use href="#xlb" x="676.1" y="547.2"/>
<use href="#xlb" x="685.4" y="583.7"/>
<use href="#xl" x="633.2" y="625.8"/>
<use href="#xlb" x="621.0" y="646.1"/>
<use href="#xlb" x="724.9" y="677.1"/>
<use href="#xlb" x="639.4" y="805.5"/>
<use href="#xl" x="638.3" y="837.7"/>
<use href="#xlb" x="636.5" y="859.5"/>
<use href="#xl" x="728.7" y="882.1"/>
<use href="#xlb" x="659.4" y="950.3"/>
<use href="#xlb" x="671.6" y="963.6"/>
<use href="#xlb" x="658.3" y="990.5"/>
<use href="#xlb" x="712.0" y="946.5"/>
<use href="#xlb" x="712.7" y="962.5"/>
<use href="#xlb" x="717.6" y="988.7"/>
<use href="#xlb" x="712.5" y="1003.6"/>
<use href="#xlb" x="652.7" y="1212.2"/>
<use href="#xlb" x="674.3" y="1262.1"/>
<use href="#xlb" x="684.9" y="1288.1"/>
<use href="#xlb" x="683.6" y="1309.2"/>
<use href="#xlb" x="692.1" y="1339.8"/>
<use href="#xlb" x="730.5" y="1273.2"/>
<use href="#xlb" x="616.1" y="1507.7"/>
<use href="#xl" x="679.4" y="1530.5"/>
<use href="#xl" x="714.9" y="1547.5"/>
<use href="#xlb" x="677.0" y="1551.5"/>
<use href="#xlb" x="615.4" y="1555.1"/>
<use href="#xl" x="608.8" y="1567.2"/>
<use href="#xlb" x="617.8" y="1573.6"/>
<use href="#xlb" x="626.5" y="1569.5"/>
<use href="#xlb" x="635.1" y="1571.2"/>
<use href="#xlb" x="621.3" y="1596.1"/>
<use href="#xlb" x="650.9" y="1592.5"/>
<use href="#xlb" x="659.2" y="1595.3"/>
<use href="#xlb" x="624.9" y="1615.0"/>
<use href="#xlb" x="637.4" y="1625.7"/>
<use href="#xl" x="628.0" y="1647.5"/>
<use href="#xlb" x="641.5" y="1652.9"/>
<use href="#xlb" x="641.5" y="1661.9"/>
<use href="#xlb" x="697.1" y="1646.5"/>
<use href="#xlb" x="697.6" y="1647.0"/>
<use href="#xl" x="607.6" y="1996.5"/>
<use href="#xl" x="645.3" y="2025.0"/>
<use href="#xl" x="666.7" y="1965.8"/>
<use href="#xl" x="693.2" y="1959.0"/>
<use href="#xl" x="712.0" y="1959.0"/>
<use href="#xl" x="733.4" y="1947.0"/>
<use href="#xl" x="685.6" y="1977.1"/>
<use href="#xl" x="683.1" y="1980.9"/>
<use href="#xl" x="688.1" y="1984.7"/>
<use href="#xl" x="691.9" y="1991.0"/>
<use href="#xl" x="700.7" y="1992.2"/>
<use href="#xl" x="713.3" y="1973.4"/>
<use href="#xl" x="710.8" y="1978.4"/>
<use href="#xl" x="719.6" y="1982.2"/>
<use href="#xl" x="723.4" y="1984.7"/>
<use href="#xl" x="723.4" y="1997.3"/>
<use href="#xl" x="728.4" y="2004.8"/>
<use href="#xl" x="730.9" y="1969.6"/>
<use href="#xl" x="712.0" y="2038.8"/>
<use href="#xbb" x="1276.8" y="81.1"/>
<use href="#xbb" x="1274.5" y="89.3"/>
<use href="#xbb" x="1289.0" y="147.9"/>
<use href="#xbb" x="1285.1" y="172.6"/>
<use href="#xbb" x="1288.6" y="193.0"/>
<use href="#xbb" x="1287.8" y="192.2"/>
<use href="#xb" x="1225.2" y="212.9"/>
<use href="#xbb" x="1278.0" y="463.8"/>
<use href="#xbb" x="1289.3" y="498.5"/>
<use href="#xbb" x="1276.8" y="517.8"/>
<use href="#xbb" x="1274.5" y="528.6"/>
<use href="#xbb" x="1282.7" y="537.3"/>
<use href="#xbb" x="1281.5" y="540.8"/>
<use href="#xbb" x="1274.5" y="547.3"/>
<use href="#xbb" x="1282.7" y="583.5"/>
<use href="#xb" x="1232.3" y="626.0"/>
<use href="#xbb" x="1274.5" y="645.9"/>
<use href="#xbb" x="1287.4" y="676.9"/>
<use href="#xbb" x="1276.1" y="805.2"/>
<use href="#xb" x="1292.8" y="837.3"/>
<use href="#xbb" x="1277.3" y="858.9"/>
<use href="#xb" x="1320.3" y="881.9"/>
<use href="#xbb" x="1276.8" y="945.7"/>
<use href="#xbb" x="1290.2" y="949.9"/>
<use href="#xbb" x="1274.5" y="963.3"/>
<use href="#xbb" x="1291.4" y="962.4"/>
<use href="#xbb" x="1285.5" y="989.4"/>
<use href="#xbb" x="1284.6" y="988.0"/>
<use href="#xbb" x="1290.9" y="1003.2"/>
<use href="#xbb" x="1291.6" y="1212.2"/>
<use href="#xbb" x="1290.2" y="1261.5"/>
<use href="#xbb" x="1288.1" y="1273.7"/>
<use href="#xbb" x="1277.3" y="1288.2"/>
<use href="#xbb" x="1291.4" y="1309.6"/>
<use href="#xbb" x="1275.7" y="1339.8"/>
<use href="#xbb" x="1280.8" y="1507.7"/>
<use href="#xb" x="1306.6" y="1530.4"/>
<use href="#xb" x="1325.6" y="1546.9"/>
<use href="#xbb" x="1296.3" y="1550.9"/>
<use href="#xbb" x="1292.1" y="1554.6"/>
<use href="#xb" x="1224.8" y="1566.8"/>
<use href="#xbb" x="1273.3" y="1569.6"/>
<use href="#xbb" x="1290.2" y="1571.5"/>
<use href="#xbb" x="1308.0" y="1573.4"/>
<use href="#xbb" x="1301.5" y="1596.1"/>
<use href="#xbb" x="1306.6" y="1593.8"/>
<use href="#xbb" x="1304.0" y="1595.0"/>
<use href="#xbb" x="1300.3" y="1614.9"/>
<use href="#xbb" x="1305.0" y="1625.9"/>
<use href="#xbb" x="1291.6" y="1645.4"/>
<use href="#xbb" x="1294.9" y="1648.9"/>
<use href="#xbb" x="1296.8" y="1654.8"/>
<use href="#xbb" x="1293.3" y="1661.8"/>
<use href="#xbb" x="1290.5" y="1646.5"/>
<use href="#xb" x="1248.7" y="1947.5"/>
<use href="#xb" x="1289.3" y="1959.7"/>
<use href="#xb" x="1306.2" y="1959.7"/>
<use href="#xb" x="1278.0" y="1966.7"/>
<use href="#xb" x="1279.2" y="1970.2"/>
<use href="#xb" x="1276.8" y="1979.6"/>
<use href="#xb" x="1297.3" y="1980.3"/>
<use href="#xb" x="1346.0" y="1973.7"/>
<use href="#xb" x="1319.1" y="1983.1"/>
<use href="#xb" x="1326.1" y="1982.0"/>
<use href="#xb" x="1328.5" y="1986.6"/>
<use href="#xb" x="1332.0" y="1990.2"/>
<use href="#xb" x="1340.2" y="1992.5"/>
<use href="#xb" x="1321.4" y="1997.2"/>
<use href="#xb" x="1326.1" y="2005.4"/>
<use href="#xb" x="1287.4" y="1996.0"/>
<use href="#xb" x="1280.8" y="2025.4"/>
<use href="#xb" x="1274.5" y="2039.0"/>
</svg>
</body></html>
